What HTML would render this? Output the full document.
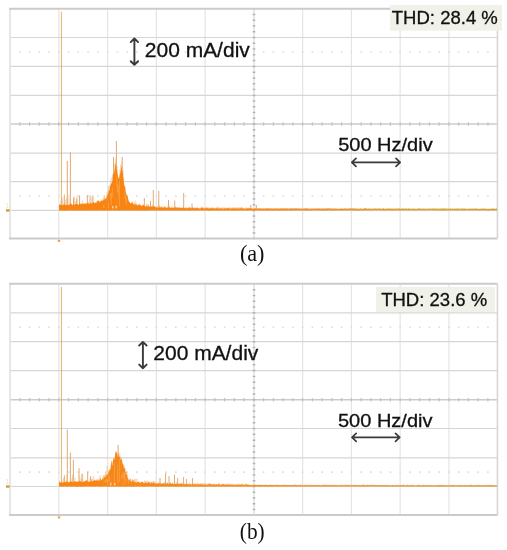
<!DOCTYPE html>
<html><head><meta charset="utf-8"><title>THD spectra</title>
<style>html,body{margin:0;padding:0;background:#fff;}body{width:507px;height:550px;overflow:hidden;}svg{display:block;}</style>
</head><body>
<svg width="507" height="550" viewBox="0 0 507 550">
<rect width="507" height="550" fill="#fff"/>
<line x1="58.81" y1="8.85" x2="58.81" y2="238.50" stroke="#e5e5e5" stroke-width="1.2"/>
<line x1="107.58" y1="8.85" x2="107.58" y2="238.50" stroke="#e5e5e5" stroke-width="1.2"/>
<line x1="156.34" y1="8.85" x2="156.34" y2="238.50" stroke="#e5e5e5" stroke-width="1.2"/>
<line x1="205.11" y1="8.85" x2="205.11" y2="238.50" stroke="#e5e5e5" stroke-width="1.2"/>
<line x1="302.63" y1="8.85" x2="302.63" y2="238.50" stroke="#e5e5e5" stroke-width="1.2"/>
<line x1="351.40" y1="8.85" x2="351.40" y2="238.50" stroke="#e5e5e5" stroke-width="1.2"/>
<line x1="400.16" y1="8.85" x2="400.16" y2="238.50" stroke="#e5e5e5" stroke-width="1.2"/>
<line x1="448.93" y1="8.85" x2="448.93" y2="238.50" stroke="#e5e5e5" stroke-width="1.2"/>
<line x1="10.05" y1="37.50" x2="497.45" y2="37.50" stroke="#d6d6d6" stroke-width="1.2"/>
<line x1="10.05" y1="66.40" x2="497.45" y2="66.40" stroke="#d6d6d6" stroke-width="1.2"/>
<line x1="10.05" y1="95.40" x2="497.45" y2="95.40" stroke="#d6d6d6" stroke-width="1.2"/>
<line x1="10.05" y1="153.10" x2="497.45" y2="153.10" stroke="#d6d6d6" stroke-width="1.2"/>
<line x1="10.05" y1="181.60" x2="497.45" y2="181.60" stroke="#d6d6d6" stroke-width="1.2"/>
<line x1="10.05" y1="210.40" x2="497.45" y2="210.40" stroke="#d6d6d6" stroke-width="1.2"/>
<path d="M19.00 51.95h1.6 M28.76 51.95h1.6 M38.51 51.95h1.6 M48.26 51.95h1.6 M58.01 51.95h1.6 M67.77 51.95h1.6 M77.52 51.95h1.6 M87.27 51.95h1.6 M97.03 51.95h1.6 M106.78 51.95h1.6 M116.53 51.95h1.6 M126.28 51.95h1.6 M136.04 51.95h1.6 M145.79 51.95h1.6 M155.54 51.95h1.6 M165.29 51.95h1.6 M175.05 51.95h1.6 M184.80 51.95h1.6 M194.55 51.95h1.6 M204.31 51.95h1.6 M214.06 51.95h1.6 M223.81 51.95h1.6 M233.56 51.95h1.6 M243.32 51.95h1.6 M253.07 51.95h1.6 M262.82 51.95h1.6 M272.58 51.95h1.6 M282.33 51.95h1.6 M292.08 51.95h1.6 M301.83 51.95h1.6 M311.59 51.95h1.6 M321.34 51.95h1.6 M331.09 51.95h1.6 M340.85 51.95h1.6 M350.60 51.95h1.6 M360.35 51.95h1.6 M370.10 51.95h1.6 M379.86 51.95h1.6 M389.61 51.95h1.6 M399.36 51.95h1.6 M409.11 51.95h1.6 M418.87 51.95h1.6 M428.62 51.95h1.6 M438.37 51.95h1.6 M448.13 51.95h1.6 M457.88 51.95h1.6 M467.63 51.95h1.6 M477.38 51.95h1.6 M487.14 51.95h1.6" stroke="#dcdcdc" stroke-width="1.6" fill="none"/>
<path d="M19.00 196.00h1.6 M28.76 196.00h1.6 M38.51 196.00h1.6 M48.26 196.00h1.6 M58.01 196.00h1.6 M67.77 196.00h1.6 M77.52 196.00h1.6 M87.27 196.00h1.6 M97.03 196.00h1.6 M106.78 196.00h1.6 M116.53 196.00h1.6 M126.28 196.00h1.6 M136.04 196.00h1.6 M145.79 196.00h1.6 M155.54 196.00h1.6 M165.29 196.00h1.6 M175.05 196.00h1.6 M184.80 196.00h1.6 M194.55 196.00h1.6 M204.31 196.00h1.6 M214.06 196.00h1.6 M223.81 196.00h1.6 M233.56 196.00h1.6 M243.32 196.00h1.6 M253.07 196.00h1.6 M262.82 196.00h1.6 M272.58 196.00h1.6 M282.33 196.00h1.6 M292.08 196.00h1.6 M301.83 196.00h1.6 M311.59 196.00h1.6 M321.34 196.00h1.6 M331.09 196.00h1.6 M340.85 196.00h1.6 M350.60 196.00h1.6 M360.35 196.00h1.6 M370.10 196.00h1.6 M379.86 196.00h1.6 M389.61 196.00h1.6 M399.36 196.00h1.6 M409.11 196.00h1.6 M418.87 196.00h1.6 M428.62 196.00h1.6 M438.37 196.00h1.6 M448.13 196.00h1.6 M457.88 196.00h1.6 M467.63 196.00h1.6 M477.38 196.00h1.6 M487.14 196.00h1.6" stroke="#dcdcdc" stroke-width="1.6" fill="none"/>
<line x1="10.05" y1="124.00" x2="497.45" y2="124.00" stroke="#cbcbcb" stroke-width="1.4"/>
<path d="M19.80 122.20v3.6 M29.56 122.20v3.6 M39.31 122.20v3.6 M49.06 122.20v3.6 M58.81 122.20v3.6 M68.57 122.20v3.6 M78.32 122.20v3.6 M88.07 122.20v3.6 M97.83 122.20v3.6 M107.58 122.20v3.6 M117.33 122.20v3.6 M127.08 122.20v3.6 M136.84 122.20v3.6 M146.59 122.20v3.6 M156.34 122.20v3.6 M166.09 122.20v3.6 M175.85 122.20v3.6 M185.60 122.20v3.6 M195.35 122.20v3.6 M205.11 122.20v3.6 M214.86 122.20v3.6 M224.61 122.20v3.6 M234.36 122.20v3.6 M244.12 122.20v3.6 M253.87 122.20v3.6 M263.62 122.20v3.6 M273.38 122.20v3.6 M283.13 122.20v3.6 M292.88 122.20v3.6 M302.63 122.20v3.6 M312.39 122.20v3.6 M322.14 122.20v3.6 M331.89 122.20v3.6 M341.65 122.20v3.6 M351.40 122.20v3.6 M361.15 122.20v3.6 M370.90 122.20v3.6 M380.66 122.20v3.6 M390.41 122.20v3.6 M400.16 122.20v3.6 M409.91 122.20v3.6 M419.67 122.20v3.6 M429.42 122.20v3.6 M439.17 122.20v3.6 M448.93 122.20v3.6 M458.68 122.20v3.6 M468.43 122.20v3.6 M478.18 122.20v3.6 M487.94 122.20v3.6" stroke="#c2c2c2" stroke-width="1.2" fill="none"/>
<line x1="254.00" y1="8.85" x2="254.00" y2="238.50" stroke="#d8d8d8" stroke-width="1.2"/>
<path d="M252.70 14.58h2.6 M252.70 20.31h2.6 M252.70 26.04h2.6 M252.70 31.77h2.6 M252.70 37.50h2.6 M252.70 43.28h2.6 M252.70 49.06h2.6 M252.70 54.84h2.6 M252.70 60.62h2.6 M252.70 66.40h2.6 M252.70 72.20h2.6 M252.70 78.00h2.6 M252.70 83.80h2.6 M252.70 89.60h2.6 M252.70 95.40h2.6 M252.70 101.12h2.6 M252.70 106.84h2.6 M252.70 112.56h2.6 M252.70 118.28h2.6 M252.70 124.00h2.6 M252.70 129.82h2.6 M252.70 135.64h2.6 M252.70 141.46h2.6 M252.70 147.28h2.6 M252.70 153.10h2.6 M252.70 158.80h2.6 M252.70 164.50h2.6 M252.70 170.20h2.6 M252.70 175.90h2.6 M252.70 181.60h2.6 M252.70 187.36h2.6 M252.70 193.12h2.6 M252.70 198.88h2.6 M252.70 204.64h2.6 M252.70 210.40h2.6 M252.70 216.02h2.6 M252.70 221.64h2.6 M252.70 227.26h2.6 M252.70 232.88h2.6 M252.70 238.50h2.6" stroke="#b2b2b2" stroke-width="1.5" fill="none"/>
<line x1="10.05" y1="8.85" x2="10.05" y2="238.50" stroke="#e4e4e4" stroke-width="1.8"/>
<line x1="9.05" y1="8.85" x2="497.45" y2="8.85" stroke="#cbcbcb" stroke-width="2"/>
<line x1="9.05" y1="238.50" x2="497.45" y2="238.50" stroke="#cbcbcb" stroke-width="2"/>
<line x1="497.45" y1="8.85" x2="497.45" y2="238.50" stroke="#d6d6d6" stroke-width="1.6"/>
<line x1="61.4" y1="11.8" x2="61.4" y2="210.4" stroke="#e2a95a" stroke-width="0.9"/>
<path d="M60.9 206.5V200.8 M62.6 206.4V197.6 M63.8 206.4V203.7 M64.6 206.3V202.7 M65.8 206.3V199.6 M66.8 206.2V196.8 M68.9 206.1V197.7 M70.6 206.1V201.9 M74.6 205.9V196.4 M75.9 205.9V201.1 M77.0 205.8V195.9 M79.6 205.7V198.1 M81.1 205.6V203.4 M82.6 205.5V200.5 M86.0 205.3V203.0 M87.9 205.1V203.1 M88.8 205.1V201.6 M89.8 205.0V195.7 M90.7 204.9V195.2 M91.9 204.8V197.4 M92.6 204.7V202.6 M96.8 204.1V200.9 M98.7 203.7V200.3 M103.9 201.6V195.4 M104.5 201.0V195.2 M106.1 199.4V197.3 M106.9 198.2V192.1 M108.6 194.9V186.2 M110.0 190.9V184.6 M111.1 187.2V177.7 M112.8 180.3V174.2 M113.7 175.9V169.7 M114.7 170.8V163.2 M115.7 167.4V158.4 M117.1 172.1V165.7 M120.0 176.3V169.8 M120.7 172.8V164.3 M122.0 167.5V161.4 M123.0 175.2V170.3 M123.6 181.0V178.3 M127.8 201.5V199.3 M131.9 205.3V202.9 M132.7 205.5V200.9 M135.0 206.2V200.5 M136.0 206.3V202.6 M136.5 206.4V204.3 M137.8 206.6V204.5 M140.6 207.0V204.5 M142.9 207.3V204.4 M143.9 207.5V205.2 M146.1 207.7V205.6 M146.5 207.7V203.9 M147.8 207.8V204.1 M148.6 207.9V204.1 M150.0 208.0V205.6 M151.9 208.2V205.7 M152.7 208.2V204.8 M153.7 208.3V206.3 M154.6 208.4V205.8 M156.0 208.5V206.4 M157.9 208.6V205.4 M159.1 208.7V206.2 M159.7 208.8V205.5 M161.5 208.8V206.2 M162.9 208.8V206.3 M164.0 208.9V206.6 M164.8 208.9V206.1 M167.1 208.9V206.9 M167.8 208.9V205.9 M169.1 208.9V205.8 M169.6 208.9V206.9 M171.0 209.0V206.8 M172.1 209.0V206.7 M172.8 209.0V206.7 M174.0 209.0V206.4 M175.7 209.0V206.5 M178.9 209.1V206.6 M179.5 209.1V206.8 M181.8 209.1V206.9 M182.9 209.1V206.9 M183.5 209.2V206.1 M185.6 209.2V207.0 M187.0 209.2V206.7 M188.8 209.2V206.8 M189.5 209.2V207.1 M190.5 209.3V206.9 M192.5 209.3V206.6 M194.0 209.3V207.3 M194.6 209.3V207.2 M196.6 209.3V207.2 M197.8 209.4V207.0 M201.1 209.4V206.8 M201.7 209.4V206.5 M202.8 209.4V206.9 M203.8 209.4V207.2 M205.9 209.4V207.4 M206.6 209.4V207.0 M207.6 209.4V207.3 M208.6 209.4V207.4 M210.0 209.4V207.4 M211.9 209.4V207.4 M212.6 209.4V207.1 M214.7 209.4V207.4 M216.8 209.5V206.8 M217.8 209.5V206.7 M218.9 209.5V207.0 M220.8 209.5V207.4 M222.5 209.5V207.2 M224.1 209.5V206.7 M227.1 209.5V207.0 M228.9 209.5V207.5 M229.9 209.5V207.1 M232.1 209.5V207.2 M232.8 209.5V207.1 M234.6 209.5V207.3 M235.6 209.5V207.5 M236.7 209.5V207.4 M237.7 209.5V207.3 M238.9 209.5V207.3 M240.0 209.5V207.0 M241.0 209.5V207.5 M241.8 209.5V207.0 M242.5 209.5V207.5 M246.6 209.6V207.1 M249.0 209.6V207.4" stroke="#edb070" stroke-width="0.85" fill="none" opacity="0.7"/>
<path d="M64.3 206.3V194.5 M67.3 206.2V161.0 M70.4 206.1V152.3 M73.5 206.0V197.5 M76.8 205.8V198.5 M79.6 205.7V195.5 M87.3 205.2V195.0 M92.9 204.7V195.5 M113.5 177.0V157.0 M116.4 168.4V141.0 M122.2 169.0V156.8 M144.3 207.5V198.0 M150.5 208.0V201.0 M153.3 208.3V190.0 M158.8 208.7V191.0 M168.5 208.9V200.0 M174.7 209.0V200.5 M183.7 209.2V193.0 M192.0 209.3V203.5 M250.8 209.6V205.0 M256.3 209.6V205.0" stroke="#e2aa70" stroke-width="1.0" fill="none"/>
<defs><linearGradient id="g1" gradientUnits="userSpaceOnUse" x1="59" y1="0" x2="497.45" y2="0"><stop offset="0.000" stop-color="#f88310"/><stop offset="0.436" stop-color="#f7891a"/><stop offset="0.550" stop-color="#ed8e2c"/><stop offset="0.687" stop-color="#e39a32"/><stop offset="0.846" stop-color="#daa83c"/><stop offset="0.999" stop-color="#d6a23c"/></linearGradient></defs>
<polygon points="59.0,205.19 59.5,203.96 60.0,205.52 60.5,203.91 61.0,205.36 61.5,205.20 62.0,204.24 62.5,205.17 63.0,204.91 63.5,205.37 64.0,204.35 64.5,204.85 65.0,205.14 65.5,204.17 66.0,205.12 66.5,204.91 67.0,205.20 67.5,204.94 68.0,205.12 68.5,205.06 69.0,204.12 69.5,205.00 70.0,204.71 70.5,203.23 71.0,203.29 71.5,204.08 72.0,204.52 72.5,204.88 73.0,204.94 73.5,203.13 74.0,204.48 74.5,204.90 75.0,204.20 75.5,203.74 76.0,204.17 76.5,203.18 77.0,204.80 77.5,204.28 78.0,204.39 78.5,204.72 79.0,203.94 79.5,203.25 80.0,204.01 80.5,204.52 81.0,203.21 81.5,204.11 82.0,204.08 82.5,203.42 83.0,204.47 83.5,203.14 84.0,203.55 84.5,203.19 85.0,204.34 85.5,203.07 86.0,204.26 86.5,204.26 87.0,202.73 87.5,202.65 88.0,202.55 88.5,203.68 89.0,203.92 89.5,204.00 90.0,203.14 90.5,202.87 91.0,202.41 91.5,203.69 92.0,203.70 92.5,202.92 93.0,202.34 93.5,201.63 94.0,203.57 94.5,203.07 95.0,201.69 95.5,202.97 96.0,202.46 96.5,203.14 97.0,201.91 97.5,200.59 98.0,200.91 98.5,200.39 99.0,201.38 99.5,202.44 100.0,200.54 100.5,202.13 101.0,199.42 101.5,201.74 102.0,198.71 102.5,201.17 103.0,200.46 103.5,200.37 104.0,198.28 104.5,199.89 105.0,198.83 105.5,199.00 106.0,198.22 106.5,196.94 107.0,196.96 107.5,194.21 108.0,194.82 108.5,191.29 109.0,190.46 109.5,190.45 110.0,185.61 110.5,186.06 111.0,182.72 111.5,184.18 112.0,181.43 112.5,180.50 113.0,172.38 113.5,175.75 114.0,173.24 114.5,170.98 115.0,168.28 115.5,163.79 116.0,165.00 116.5,167.46 117.0,170.25 117.5,173.32 118.0,175.66 118.5,177.94 119.0,179.07 119.5,175.50 120.0,173.67 120.5,172.61 121.0,169.29 121.5,166.42 122.0,166.47 122.5,170.12 123.0,173.72 123.5,178.29 124.0,182.94 124.5,186.47 125.0,185.74 125.5,190.27 126.0,192.72 126.5,194.18 127.0,196.65 127.5,194.89 128.0,198.35 128.5,200.25 129.0,201.98 129.5,201.41 130.0,202.83 130.5,203.44 131.0,202.99 131.5,201.65 132.0,204.03 132.5,202.35 133.0,203.75 133.5,204.70 134.0,202.13 134.5,204.68 135.0,205.03 135.5,203.55 136.0,205.32 136.5,204.18 137.0,205.42 137.5,205.25 138.0,205.53 138.5,204.11 139.0,205.47 139.5,203.69 140.0,205.10 140.5,204.98 141.0,205.52 141.5,205.95 142.0,205.90 142.5,204.40 143.0,206.26 143.5,204.38 144.0,205.35 144.5,206.32 145.0,205.85 145.5,206.41 146.0,206.45 146.5,206.30 147.0,206.76 147.5,206.41 148.0,205.13 148.5,206.77 149.0,205.98 149.5,206.67 150.0,206.94 150.5,205.68 151.0,207.08 151.5,207.00 152.0,205.55 152.5,207.12 153.0,206.15 153.5,206.77 154.0,206.38 154.5,206.82 155.0,207.24 155.5,206.65 156.0,207.48 156.5,207.29 157.0,207.41 157.5,207.34 158.0,207.63 158.5,207.63 159.0,207.37 159.5,207.61 160.0,207.08 160.5,207.41 161.0,206.96 161.5,207.23 162.0,207.45 162.5,207.76 163.0,207.17 163.5,207.80 164.0,207.86 164.5,206.82 165.0,207.58 165.5,207.24 166.0,207.61 166.5,207.52 167.0,207.90 167.5,207.88 168.0,207.46 168.5,207.61 169.0,207.92 169.5,206.97 170.0,207.93 170.5,207.71 171.0,207.95 171.5,207.46 172.0,207.92 172.5,207.97 173.0,207.99 173.5,207.98 174.0,207.98 174.5,207.76 175.0,207.85 175.5,207.12 176.0,207.14 176.5,207.45 177.0,207.64 177.5,207.39 178.0,207.22 178.5,208.08 179.0,208.08 179.5,207.99 180.0,208.09 180.5,207.80 181.0,208.07 181.5,208.07 182.0,208.07 182.5,208.13 183.0,207.67 183.5,207.80 184.0,207.86 184.5,208.17 185.0,208.04 185.5,207.80 186.0,208.18 186.5,208.09 187.0,208.20 187.5,208.21 188.0,208.19 188.5,208.11 189.0,208.08 189.5,207.61 190.0,208.18 190.5,208.26 191.0,207.73 191.5,208.27 192.0,208.28 192.5,207.56 193.0,207.87 193.5,208.23 194.0,208.30 194.5,208.22 195.0,208.25 195.5,207.77 196.0,208.23 196.5,208.34 197.0,207.73 197.5,208.10 198.0,208.36 198.5,208.37 199.0,208.25 199.5,208.39 200.0,208.15 200.5,208.16 201.0,208.40 201.5,207.97 202.0,208.00 202.5,207.84 203.0,208.12 203.5,208.10 204.0,208.40 204.5,208.41 205.0,208.41 205.5,207.79 206.0,208.16 206.5,207.82 207.0,208.36 207.5,208.06 208.0,208.42 208.5,208.42 209.0,208.39 209.5,208.25 210.0,208.25 210.5,208.29 211.0,208.34 211.5,208.24 212.0,207.83 212.5,208.32 213.0,208.00 213.5,208.44 214.0,208.37 214.5,208.27 215.0,208.22 215.5,208.42 216.0,208.37 216.5,207.88 217.0,208.21 217.5,208.26 218.0,208.46 218.5,208.46 219.0,208.44 219.5,208.46 220.0,207.86 220.5,208.47 221.0,208.40 221.5,208.47 222.0,208.24 222.5,208.47 223.0,208.47 223.5,208.48 224.0,208.44 224.5,208.30 225.0,208.10 225.5,208.45 226.0,208.45 226.5,208.09 227.0,208.17 227.5,208.49 228.0,208.12 228.5,208.09 229.0,208.48 229.5,208.28 230.0,208.48 230.5,208.47 231.0,208.38 231.5,208.36 232.0,208.39 232.5,208.36 233.0,208.49 233.5,208.17 234.0,208.48 234.5,208.04 235.0,208.38 235.5,208.48 236.0,208.51 236.5,208.40 237.0,208.46 237.5,208.32 238.0,208.40 238.5,208.53 239.0,208.15 239.5,208.53 240.0,208.16 240.5,208.18 241.0,208.06 241.5,208.31 242.0,208.53 242.5,208.45 243.0,208.45 243.5,208.34 244.0,208.48 244.5,208.32 245.0,208.53 245.5,208.50 246.0,208.41 246.5,208.47 247.0,208.55 247.5,208.06 248.0,208.32 248.5,208.20 249.0,208.51 249.5,208.09 250.0,208.23 250.5,208.06 251.0,208.56 251.5,208.47 252.0,208.51 252.5,208.40 253.0,208.55 253.5,208.58 254.0,208.48 254.5,208.39 255.0,208.52 255.5,208.08 256.0,208.52 256.5,208.55 257.0,208.27 257.5,208.50 258.0,208.56 258.5,208.56 259.0,208.15 259.5,208.14 260.0,208.41 260.5,208.57 261.0,208.36 261.5,208.58 262.0,208.56 262.5,208.47 263.0,208.54 263.5,208.55 264.0,208.13 264.5,208.59 265.0,208.43 265.5,208.60 266.0,208.60 266.5,208.59 267.0,208.12 267.5,208.36 268.0,208.24 268.5,208.61 269.0,208.39 269.5,208.53 270.0,208.54 270.5,208.37 271.0,208.57 271.5,208.49 272.0,208.58 272.5,208.55 273.0,208.49 273.5,208.60 274.0,208.58 274.5,208.54 275.0,208.52 275.5,208.31 276.0,208.42 276.5,208.47 277.0,208.25 277.5,208.60 278.0,208.61 278.5,208.55 279.0,208.61 279.5,208.48 280.0,208.47 280.5,208.61 281.0,208.38 281.5,208.48 282.0,208.54 282.5,208.21 283.0,208.26 283.5,208.60 284.0,208.61 284.5,208.21 285.0,208.61 285.5,208.35 286.0,208.58 286.5,208.57 287.0,208.49 287.5,208.20 288.0,208.62 288.5,208.61 289.0,208.38 289.5,208.56 290.0,208.59 290.5,208.17 291.0,208.60 291.5,208.39 292.0,208.17 292.5,208.35 293.0,208.39 293.5,208.38 294.0,208.32 294.5,208.60 295.0,208.45 295.5,208.32 296.0,208.25 296.5,208.23 297.0,208.23 297.5,208.63 298.0,208.57 298.5,208.54 299.0,208.24 299.5,208.56 300.0,208.61 300.5,208.63 301.0,208.60 301.5,208.34 302.0,208.64 302.5,208.63 303.0,208.60 303.5,208.51 304.0,208.58 304.5,208.26 305.0,208.62 305.5,208.50 306.0,208.35 306.5,208.21 307.0,208.27 307.5,208.63 308.0,208.34 308.5,208.43 309.0,208.57 309.5,208.64 310.0,208.63 310.5,208.38 311.0,208.64 311.5,208.60 312.0,208.62 312.5,208.38 313.0,208.59 313.5,208.64 314.0,208.59 314.5,208.60 315.0,208.41 315.5,208.61 316.0,208.42 316.5,208.52 317.0,208.26 317.5,208.40 318.0,208.58 318.5,208.55 319.0,208.55 319.5,208.28 320.0,208.64 320.5,208.58 321.0,208.53 321.5,208.57 322.0,208.49 322.5,208.54 323.0,208.58 323.5,208.43 324.0,208.61 324.5,208.49 325.0,208.41 325.5,208.65 326.0,208.61 326.5,208.21 327.0,208.19 327.5,208.17 328.0,208.66 328.5,208.33 329.0,208.23 329.5,208.26 330.0,208.42 330.5,208.45 331.0,208.42 331.5,208.51 332.0,208.36 332.5,208.55 333.0,208.64 333.5,208.66 334.0,208.26 334.5,208.39 335.0,208.65 335.5,208.34 336.0,208.63 336.5,208.48 337.0,208.61 337.5,208.65 338.0,208.65 338.5,208.66 339.0,208.67 339.5,208.67 340.0,208.67 340.5,208.33 341.0,208.55 341.5,208.66 342.0,208.55 342.5,208.54 343.0,208.56 343.5,208.65 344.0,208.59 344.5,208.30 345.0,208.61 345.5,208.56 346.0,208.25 346.5,208.65 347.0,208.43 347.5,208.57 348.0,208.38 348.5,208.62 349.0,208.54 349.5,208.62 350.0,208.31 350.5,208.27 351.0,208.49 351.5,208.20 352.0,208.43 352.5,208.35 353.0,208.29 353.5,208.65 354.0,208.19 354.5,208.62 355.0,208.57 355.5,208.67 356.0,208.36 356.5,208.64 357.0,208.46 357.5,208.66 358.0,208.63 358.5,208.62 359.0,208.66 359.5,208.68 360.0,208.40 360.5,208.24 361.0,208.67 361.5,208.68 362.0,208.64 362.5,208.68 363.0,208.49 363.5,208.63 364.0,208.55 364.5,208.29 365.0,208.33 365.5,208.27 366.0,208.26 366.5,208.53 367.0,208.58 367.5,208.69 368.0,208.69 368.5,208.57 369.0,208.34 369.5,208.61 370.0,208.69 370.5,208.68 371.0,208.42 371.5,208.69 372.0,208.68 372.5,208.66 373.0,208.53 373.5,208.36 374.0,208.68 374.5,208.53 375.0,208.57 375.5,208.61 376.0,208.55 376.5,208.38 377.0,208.68 377.5,208.59 378.0,208.70 378.5,208.58 379.0,208.40 379.5,208.20 380.0,208.60 380.5,208.67 381.0,208.55 381.5,208.65 382.0,208.70 382.5,208.58 383.0,208.40 383.5,208.32 384.0,208.23 384.5,208.65 385.0,208.68 385.5,208.70 386.0,208.63 386.5,208.39 387.0,208.69 387.5,208.36 388.0,208.47 388.5,208.69 389.0,208.53 389.5,208.39 390.0,208.28 390.5,208.70 391.0,208.39 391.5,208.42 392.0,208.69 392.5,208.68 393.0,208.26 393.5,208.66 394.0,208.68 394.5,208.47 395.0,208.71 395.5,208.61 396.0,208.66 396.5,208.58 397.0,208.55 397.5,208.53 398.0,208.64 398.5,208.33 399.0,208.38 399.5,208.29 400.0,208.63 400.5,208.47 401.0,208.64 401.5,208.69 402.0,208.52 402.5,208.28 403.0,208.41 403.5,208.69 404.0,208.70 404.5,208.44 405.0,208.49 405.5,208.36 406.0,208.72 406.5,208.36 407.0,208.64 407.5,208.70 408.0,208.68 408.5,208.23 409.0,208.27 409.5,208.72 410.0,208.69 410.5,208.48 411.0,208.73 411.5,208.73 412.0,208.73 412.5,208.36 413.0,208.68 413.5,208.69 414.0,208.43 414.5,208.69 415.0,208.47 415.5,208.68 416.0,208.70 416.5,208.67 417.0,208.72 417.5,208.73 418.0,208.36 418.5,208.37 419.0,208.64 419.5,208.51 420.0,208.37 420.5,208.67 421.0,208.50 421.5,208.47 422.0,208.73 422.5,208.73 423.0,208.47 423.5,208.51 424.0,208.73 424.5,208.41 425.0,208.43 425.5,208.70 426.0,208.69 426.5,208.74 427.0,208.66 427.5,208.74 428.0,208.61 428.5,208.56 429.0,208.59 429.5,208.74 430.0,208.57 430.5,208.48 431.0,208.74 431.5,208.59 432.0,208.42 432.5,208.73 433.0,208.34 433.5,208.28 434.0,208.51 434.5,208.38 435.0,208.72 435.5,208.54 436.0,208.33 436.5,208.75 437.0,208.43 437.5,208.73 438.0,208.44 438.5,208.56 439.0,208.44 439.5,208.68 440.0,208.67 440.5,208.33 441.0,208.75 441.5,208.74 442.0,208.28 442.5,208.34 443.0,208.75 443.5,208.28 444.0,208.73 444.5,208.37 445.0,208.35 445.5,208.76 446.0,208.76 446.5,208.71 447.0,208.33 447.5,208.46 448.0,208.70 448.5,208.40 449.0,208.72 449.5,208.71 450.0,208.75 450.5,208.30 451.0,208.45 451.5,208.67 452.0,208.74 452.5,208.30 453.0,208.70 453.5,208.75 454.0,208.69 454.5,208.52 455.0,208.48 455.5,208.76 456.0,208.32 456.5,208.56 457.0,208.77 457.5,208.43 458.0,208.30 458.5,208.43 459.0,208.77 459.5,208.67 460.0,208.61 460.5,208.38 461.0,208.66 461.5,208.77 462.0,208.34 462.5,208.32 463.0,208.67 463.5,208.77 464.0,208.43 464.5,208.51 465.0,208.30 465.5,208.77 466.0,208.69 466.5,208.74 467.0,208.77 467.5,208.52 468.0,208.73 468.5,208.78 469.0,208.77 469.5,208.47 470.0,208.61 470.5,208.76 471.0,208.55 471.5,208.77 472.0,208.57 472.5,208.58 473.0,208.78 473.5,208.67 474.0,208.53 474.5,208.51 475.0,208.55 475.5,208.40 476.0,208.51 476.5,208.36 477.0,208.71 477.5,208.78 478.0,208.77 478.5,208.75 479.0,208.78 479.5,208.78 480.0,208.67 480.5,208.76 481.0,208.75 481.5,208.53 482.0,208.43 482.5,208.43 483.0,208.73 483.5,208.55 484.0,208.44 484.5,208.78 485.0,208.78 485.5,208.60 486.0,208.76 486.5,208.78 487.0,208.74 487.5,208.79 488.0,208.71 488.5,208.79 489.0,208.77 489.5,208.78 490.0,208.75 490.5,208.79 491.0,208.70 491.5,208.58 492.0,208.75 492.5,208.37 493.0,208.44 493.5,208.76 494.0,208.80 494.5,208.52 495.0,208.78 495.5,208.75 496.0,208.65 496.5,208.30 497.0,208.76 497.0,210.38 496.5,210.41 496.0,210.45 495.5,210.35 495.0,210.54 494.5,210.40 494.0,210.58 493.5,210.40 493.0,210.42 492.5,210.55 492.0,210.55 491.5,210.47 491.0,210.58 490.5,210.48 490.0,210.60 489.5,210.43 489.0,210.60 488.5,210.45 488.0,210.43 487.5,210.51 487.0,210.48 486.5,210.59 486.0,210.45 485.5,210.43 485.0,210.31 484.5,210.48 484.0,210.44 483.5,210.42 483.0,210.35 482.5,210.44 482.0,210.41 481.5,210.55 481.0,210.31 480.5,210.46 480.0,210.45 479.5,210.34 479.0,210.55 478.5,210.38 478.0,210.44 477.5,210.43 477.0,210.32 476.5,210.36 476.0,210.54 475.5,210.52 475.0,210.50 474.5,210.53 474.0,210.35 473.5,210.58 473.0,210.34 472.5,210.40 472.0,210.60 471.5,210.38 471.0,210.39 470.5,210.40 470.0,210.43 469.5,210.35 469.0,210.50 468.5,210.37 468.0,210.31 467.5,210.55 467.0,210.37 466.5,210.49 466.0,210.31 465.5,210.33 465.0,210.44 464.5,210.42 464.0,210.38 463.5,210.47 463.0,210.45 462.5,210.47 462.0,210.41 461.5,210.48 461.0,210.56 460.5,210.40 460.0,210.41 459.5,210.37 459.0,210.50 458.5,210.35 458.0,210.60 457.5,210.44 457.0,210.50 456.5,210.49 456.0,210.52 455.5,210.42 455.0,210.40 454.5,210.54 454.0,210.54 453.5,210.33 453.0,210.33 452.5,210.60 452.0,210.38 451.5,210.41 451.0,210.52 450.5,210.44 450.0,210.55 449.5,210.37 449.0,210.50 448.5,210.61 448.0,210.57 447.5,210.32 447.0,210.59 446.5,210.38 446.0,210.48 445.5,210.41 445.0,210.37 444.5,210.49 444.0,210.52 443.5,210.43 443.0,210.47 442.5,210.57 442.0,210.47 441.5,210.52 441.0,210.58 440.5,210.38 440.0,210.38 439.5,210.47 439.0,210.36 438.5,210.40 438.0,210.44 437.5,210.55 437.0,210.59 436.5,210.50 436.0,210.53 435.5,210.50 435.0,210.57 434.5,210.54 434.0,210.41 433.5,210.58 433.0,210.36 432.5,210.60 432.0,210.45 431.5,210.33 431.0,210.37 430.5,210.33 430.0,210.46 429.5,210.37 429.0,210.41 428.5,210.39 428.0,210.34 427.5,210.58 427.0,210.56 426.5,210.46 426.0,210.38 425.5,210.45 425.0,210.33 424.5,210.36 424.0,210.57 423.5,210.44 423.0,210.58 422.5,210.36 422.0,210.57 421.5,210.45 421.0,210.44 420.5,210.33 420.0,210.33 419.5,210.50 419.0,210.32 418.5,210.35 418.0,210.49 417.5,210.61 417.0,210.37 416.5,210.52 416.0,210.37 415.5,210.42 415.0,210.61 414.5,210.42 414.0,210.52 413.5,210.52 413.0,210.52 412.5,210.57 412.0,210.43 411.5,210.36 411.0,210.48 410.5,210.48 410.0,210.55 409.5,210.60 409.0,210.54 408.5,210.41 408.0,210.62 407.5,210.32 407.0,210.53 406.5,210.54 406.0,210.49 405.5,210.36 405.0,210.44 404.5,210.38 404.0,210.61 403.5,210.41 403.0,210.58 402.5,210.59 402.0,210.60 401.5,210.50 401.0,210.37 400.5,210.52 400.0,210.54 399.5,210.43 399.0,210.41 398.5,210.53 398.0,210.40 397.5,210.44 397.0,210.32 396.5,210.39 396.0,210.50 395.5,210.33 395.0,210.39 394.5,210.45 394.0,210.53 393.5,210.50 393.0,210.51 392.5,210.42 392.0,210.48 391.5,210.39 391.0,210.53 390.5,210.43 390.0,210.41 389.5,210.60 389.0,210.50 388.5,210.46 388.0,210.44 387.5,210.35 387.0,210.57 386.5,210.45 386.0,210.49 385.5,210.42 385.0,210.61 384.5,210.38 384.0,210.51 383.5,210.62 383.0,210.50 382.5,210.51 382.0,210.50 381.5,210.34 381.0,210.52 380.5,210.35 380.0,210.60 379.5,210.57 379.0,210.33 378.5,210.36 378.0,210.48 377.5,210.33 377.0,210.46 376.5,210.50 376.0,210.51 375.5,210.34 375.0,210.40 374.5,210.36 374.0,210.34 373.5,210.35 373.0,210.35 372.5,210.54 372.0,210.51 371.5,210.48 371.0,210.59 370.5,210.51 370.0,210.50 369.5,210.36 369.0,210.56 368.5,210.60 368.0,210.60 367.5,210.50 367.0,210.58 366.5,210.61 366.0,210.52 365.5,210.46 365.0,210.53 364.5,210.55 364.0,210.37 363.5,210.40 363.0,210.62 362.5,210.57 362.0,210.47 361.5,210.45 361.0,210.62 360.5,210.36 360.0,210.50 359.5,210.58 359.0,210.39 358.5,210.57 358.0,210.50 357.5,210.41 357.0,210.63 356.5,210.49 356.0,210.53 355.5,210.43 355.0,210.59 354.5,210.37 354.0,210.44 353.5,210.45 353.0,210.58 352.5,210.45 352.0,210.62 351.5,210.58 351.0,210.51 350.5,210.49 350.0,210.36 349.5,210.34 349.0,210.38 348.5,210.60 348.0,210.44 347.5,210.51 347.0,210.43 346.5,210.53 346.0,210.43 345.5,210.34 345.0,210.60 344.5,210.34 344.0,210.41 343.5,210.41 343.0,210.56 342.5,210.41 342.0,210.48 341.5,210.40 341.0,210.58 340.5,210.38 340.0,210.52 339.5,210.49 339.0,210.35 338.5,210.56 338.0,210.36 337.5,210.59 337.0,210.40 336.5,210.38 336.0,210.53 335.5,210.36 335.0,210.60 334.5,210.50 334.0,210.41 333.5,210.47 333.0,210.49 332.5,210.62 332.0,210.40 331.5,210.55 331.0,210.37 330.5,210.63 330.0,210.44 329.5,210.47 329.0,210.52 328.5,210.36 328.0,210.55 327.5,210.53 327.0,210.50 326.5,210.38 326.0,210.63 325.5,210.48 325.0,210.45 324.5,210.45 324.0,210.60 323.5,210.63 323.0,210.47 322.5,210.57 322.0,210.41 321.5,210.59 321.0,210.56 320.5,210.48 320.0,210.43 319.5,210.56 319.0,210.57 318.5,210.35 318.0,210.51 317.5,210.51 317.0,210.48 316.5,210.37 316.0,210.51 315.5,210.46 315.0,210.37 314.5,210.44 314.0,210.36 313.5,210.37 313.0,210.56 312.5,210.45 312.0,210.50 311.5,210.46 311.0,210.45 310.5,210.37 310.0,210.59 309.5,210.52 309.0,210.52 308.5,210.40 308.0,210.35 307.5,210.57 307.0,210.51 306.5,210.54 306.0,210.42 305.5,210.46 305.0,210.41 304.5,210.64 304.0,210.36 303.5,210.42 303.0,210.38 302.5,210.45 302.0,210.49 301.5,210.41 301.0,210.56 300.5,210.62 300.0,210.62 299.5,210.39 299.0,210.39 298.5,210.54 298.0,210.35 297.5,210.57 297.0,210.39 296.5,210.50 296.0,210.54 295.5,210.58 295.0,210.53 294.5,210.54 294.0,210.37 293.5,210.37 293.0,210.40 292.5,210.51 292.0,210.64 291.5,210.41 291.0,210.61 290.5,210.60 290.0,210.61 289.5,210.55 289.0,210.35 288.5,210.49 288.0,210.41 287.5,210.55 287.0,210.46 286.5,210.51 286.0,210.44 285.5,210.41 285.0,210.35 284.5,210.45 284.0,210.57 283.5,210.52 283.0,210.55 282.5,210.50 282.0,210.40 281.5,210.45 281.0,210.50 280.5,210.46 280.0,210.51 279.5,210.54 279.0,210.61 278.5,210.62 278.0,210.56 277.5,210.64 277.0,210.57 276.5,210.37 276.0,210.41 275.5,210.46 275.0,210.38 274.5,210.40 274.0,210.48 273.5,210.48 273.0,210.62 272.5,210.64 272.0,210.49 271.5,210.58 271.0,210.61 270.5,210.46 270.0,210.58 269.5,210.64 269.0,210.36 268.5,210.44 268.0,210.47 267.5,210.54 267.0,210.65 266.5,210.53 266.0,210.56 265.5,210.62 265.0,210.57 264.5,210.58 264.0,210.46 263.5,210.46 263.0,210.38 262.5,210.40 262.0,210.36 261.5,210.59 261.0,210.58 260.5,210.46 260.0,210.49 259.5,210.45 259.0,210.44 258.5,210.49 258.0,210.46 257.5,210.44 257.0,210.40 256.5,210.36 256.0,210.47 255.5,210.44 255.0,210.36 254.5,210.48 254.0,210.62 253.5,210.40 253.0,210.50 252.5,210.61 252.0,210.45 251.5,210.52 251.0,210.38 250.5,210.50 250.0,210.39 249.5,210.62 249.0,210.57 248.5,210.50 248.0,210.63 247.5,210.56 247.0,210.59 246.5,210.51 246.0,210.46 245.5,210.62 245.0,210.37 244.5,210.40 244.0,210.37 243.5,210.51 243.0,210.38 242.5,210.61 242.0,210.56 241.5,210.55 241.0,210.61 240.5,210.55 240.0,210.52 239.5,210.59 239.0,210.56 238.5,210.53 238.0,210.40 237.5,210.64 237.0,210.37 236.5,210.52 236.0,210.53 235.5,210.51 235.0,210.63 234.5,210.64 234.0,210.63 233.5,210.53 233.0,210.64 232.5,210.46 232.0,210.50 231.5,210.42 231.0,210.43 230.5,210.46 230.0,210.55 229.5,210.37 229.0,210.42 228.5,210.60 228.0,210.64 227.5,210.40 227.0,210.39 226.5,210.42 226.0,210.59 225.5,210.51 225.0,210.43 224.5,210.65 224.0,210.58 223.5,210.53 223.0,210.56 222.5,210.39 222.0,210.59 221.5,210.37 221.0,210.42 220.5,210.49 220.0,210.66 219.5,210.55 219.0,210.62 218.5,210.39 218.0,210.41 217.5,210.62 217.0,210.66 216.5,210.52 216.0,210.59 215.5,210.49 215.0,210.56 214.5,210.54 214.0,210.47 213.5,210.42 213.0,210.55 212.5,210.64 212.0,210.38 211.5,210.58 211.0,210.66 210.5,210.51 210.0,210.47 209.5,210.66 209.0,210.64 208.5,210.63 208.0,210.55 207.5,210.54 207.0,210.52 206.5,210.38 206.0,210.37 205.5,210.60 205.0,210.64 204.5,210.57 204.0,210.39 203.5,210.41 203.0,210.50 202.5,210.51 202.0,210.56 201.5,210.65 201.0,210.37 200.5,210.55 200.0,210.48 199.5,210.38 199.0,210.61 198.5,210.57 198.0,210.51 197.5,210.48 197.0,210.52 196.5,210.49 196.0,210.41 195.5,210.43 195.0,210.65 194.5,210.52 194.0,210.39 193.5,210.57 193.0,210.50 192.5,210.53 192.0,210.54 191.5,210.60 191.0,210.42 190.5,210.57 190.0,210.64 189.5,210.51 189.0,210.61 188.5,210.43 188.0,210.55 187.5,210.61 187.0,210.49 186.5,210.57 186.0,210.62 185.5,210.50 185.0,210.50 184.5,210.42 184.0,210.65 183.5,210.64 183.0,210.45 182.5,210.43 182.0,210.52 181.5,210.47 181.0,210.45 180.5,210.46 180.0,210.67 179.5,210.46 179.0,210.64 178.5,210.44 178.0,210.60 177.5,210.50 177.0,210.62 176.5,210.65 176.0,210.66 175.5,210.61 175.0,210.55 174.5,210.56 174.0,210.62 173.5,210.58 173.0,210.42 172.5,210.41 172.0,210.56 171.5,210.44 171.0,210.67 170.5,210.59 170.0,210.58 169.5,210.66 169.0,210.50 168.5,210.49 168.0,210.41 167.5,210.60 167.0,210.49 166.5,210.54 166.0,210.55 165.5,210.44 165.0,210.66 164.5,210.60 164.0,210.44 163.5,210.46 163.0,210.62 162.5,210.58 162.0,210.60 161.5,210.54 161.0,210.64 160.5,210.63 160.0,210.43 159.5,210.52 159.0,210.39 158.5,210.57 158.0,210.62 157.5,210.52 157.0,210.47 156.5,210.44 156.0,210.50 155.5,210.55 155.0,210.45 154.5,210.39 154.0,210.39 153.5,210.41 153.0,210.46 152.5,210.56 152.0,210.57 151.5,210.62 151.0,210.55 150.5,210.44 150.0,210.59 149.5,210.45 149.0,210.43 148.5,210.54 148.0,210.60 147.5,210.63 147.0,210.52 146.5,210.63 146.0,210.67 145.5,210.63 145.0,210.49 144.5,210.51 144.0,210.49 143.5,210.66 143.0,210.58 142.5,210.65 142.0,210.50 141.5,210.68 141.0,210.48 140.5,210.55 140.0,210.52 139.5,210.61 139.0,210.67 138.5,210.53 138.0,210.53 137.5,210.44 137.0,210.48 136.5,210.64 136.0,210.41 135.5,210.65 135.0,210.46 134.5,210.49 134.0,210.64 133.5,210.49 133.0,210.43 132.5,210.61 132.0,210.47 131.5,210.39 131.0,210.65 130.5,210.50 130.0,210.56 129.5,210.68 129.0,210.57 128.5,210.57 128.0,210.40 127.5,210.47 127.0,210.51 126.5,210.45 126.0,210.67 125.5,210.59 125.0,210.53 124.5,210.60 124.0,210.46 123.5,210.59 123.0,210.53 122.5,210.52 122.0,210.55 121.5,210.60 121.0,210.68 120.5,210.55 120.0,210.67 119.5,210.65 119.0,210.39 118.5,210.67 118.0,210.56 117.5,210.42 117.0,210.45 116.5,210.50 116.0,210.56 115.5,210.53 115.0,210.47 114.5,210.62 114.0,210.55 113.5,210.46 113.0,210.57 112.5,210.48 112.0,210.48 111.5,210.65 111.0,210.50 110.5,210.41 110.0,210.52 109.5,210.57 109.0,210.67 108.5,210.45 108.0,210.46 107.5,210.57 107.0,210.41 106.5,210.55 106.0,210.66 105.5,210.69 105.0,210.46 104.5,210.47 104.0,210.67 103.5,210.53 103.0,210.45 102.5,210.68 102.0,210.40 101.5,210.62 101.0,210.50 100.5,210.62 100.0,210.49 99.5,210.46 99.0,210.56 98.5,210.55 98.0,210.58 97.5,210.46 97.0,210.48 96.5,210.64 96.0,210.63 95.5,210.62 95.0,210.55 94.5,210.50 94.0,210.59 93.5,210.68 93.0,210.48 92.5,210.42 92.0,210.57 91.5,210.53 91.0,210.64 90.5,210.53 90.0,210.43 89.5,210.64 89.0,210.50 88.5,210.58 88.0,210.48 87.5,210.59 87.0,210.68 86.5,210.69 86.0,210.66 85.5,210.69 85.0,210.57 84.5,210.57 84.0,210.69 83.5,210.53 83.0,210.43 82.5,210.51 82.0,210.55 81.5,210.58 81.0,210.64 80.5,210.46 80.0,210.41 79.5,210.63 79.0,210.49 78.5,210.54 78.0,210.53 77.5,210.50 77.0,210.66 76.5,210.51 76.0,210.46 75.5,210.43 75.0,210.63 74.5,210.67 74.0,210.55 73.5,210.69 73.0,210.49 72.5,210.46 72.0,210.68 71.5,210.47 71.0,210.59 70.5,210.40 70.0,210.44 69.5,210.52 69.0,210.66 68.5,210.49 68.0,210.60 67.5,210.57 67.0,210.59 66.5,210.62 66.0,210.52 65.5,210.69 65.0,210.68 64.5,210.65 64.0,210.65 63.5,210.69 63.0,210.44 62.5,210.43 62.0,210.60 61.5,210.56 61.0,210.58 60.5,210.46 60.0,210.60 59.5,210.59 59.0,210.54" fill="url(#g1)"/>
<path d="M103.4 205.4V207.8 M104.0 205.1V207.7 M107.0 197.7V201.3 M108.5 202.8V208.1 M110.4 192.7V200.6 M111.4 193.2V204.7 M112.3 187.5V197.4 M116.7 175.7V185.9 M117.6 184.1V192.2 M118.4 185.7V196.0 M119.4 180.2V206.4 M124.9 191.3V199.4 M125.7 196.4V202.4 M126.6 198.0V204.4" stroke="#fff3e0" stroke-width="0.6" fill="none" opacity="0.35"/>
<rect x="112" y="206" width="1.5" height="2.5" fill="#fff6ea" opacity="0.6"/>
<rect x="115.5" y="205.6" width="1.5" height="2.8" fill="#fff6ea" opacity="0.6"/>
<rect x="6" y="209.2" width="3.6" height="2.4" fill="#c9a040"/>
<text x="5.2" y="208.2" font-family="'Liberation Sans', Arial, sans-serif" font-size="7" fill="#f4e4bc">1</text>
<rect x="57.8" y="239.8" width="2.4" height="2" fill="#f0a040"/>
<rect x="390" y="5" width="112" height="25.6" fill="#f0f1e8"/>
<text x="391.8" y="24.2" font-family="'Liberation Sans', Arial, sans-serif" font-size="18.3" fill="#111" stroke="#111" stroke-width="0.3" textLength="106" lengthAdjust="spacingAndGlyphs">THD: 28.4 %</text>
<text x="144.8" y="56.6" font-family="'Liberation Sans', Arial, sans-serif" font-size="20.2" fill="#111" stroke="#111" stroke-width="0.3" textLength="105" lengthAdjust="spacingAndGlyphs">200 mA/div</text>
<path d="M134.4 38.5V64.8 M130.70000000000002 42.1L134.4 38.5L138.1 42.1 M130.70000000000002 61.199999999999996L134.4 64.8L138.1 61.199999999999996" stroke="#3a3a3a" stroke-width="1.9" fill="none" stroke-linecap="round" stroke-linejoin="round"/>
<text x="338.2" y="151.3" font-family="'Liberation Sans', Arial, sans-serif" font-size="18.2" fill="#111" stroke="#111" stroke-width="0.3" textLength="94.5" lengthAdjust="spacingAndGlyphs">500 Hz/div</text>
<path d="M351.8 162.3H400.2 M356.0 158.3L351.8 162.3L356.0 166.3 M396.0 158.3L400.2 162.3L396.0 166.3" stroke="#3a3a3a" stroke-width="1.7" fill="none" stroke-linecap="round" stroke-linejoin="round"/>
<text x="239.9" y="260.9" font-family="'Liberation Serif', 'Times New Roman', serif" font-size="22.9" fill="#111" textLength="24.6" lengthAdjust="spacingAndGlyphs">(a)</text>
<line x1="58.81" y1="283.85" x2="58.81" y2="515.10" stroke="#e5e5e5" stroke-width="1.2"/>
<line x1="107.58" y1="283.85" x2="107.58" y2="515.10" stroke="#e5e5e5" stroke-width="1.2"/>
<line x1="156.34" y1="283.85" x2="156.34" y2="515.10" stroke="#e5e5e5" stroke-width="1.2"/>
<line x1="205.11" y1="283.85" x2="205.11" y2="515.10" stroke="#e5e5e5" stroke-width="1.2"/>
<line x1="302.63" y1="283.85" x2="302.63" y2="515.10" stroke="#e5e5e5" stroke-width="1.2"/>
<line x1="351.40" y1="283.85" x2="351.40" y2="515.10" stroke="#e5e5e5" stroke-width="1.2"/>
<line x1="400.16" y1="283.85" x2="400.16" y2="515.10" stroke="#e5e5e5" stroke-width="1.2"/>
<line x1="448.93" y1="283.85" x2="448.93" y2="515.10" stroke="#e5e5e5" stroke-width="1.2"/>
<line x1="10.05" y1="312.80" x2="497.45" y2="312.80" stroke="#d6d6d6" stroke-width="1.2"/>
<line x1="10.05" y1="341.70" x2="497.45" y2="341.70" stroke="#d6d6d6" stroke-width="1.2"/>
<line x1="10.05" y1="370.60" x2="497.45" y2="370.60" stroke="#d6d6d6" stroke-width="1.2"/>
<line x1="10.05" y1="428.50" x2="497.45" y2="428.50" stroke="#d6d6d6" stroke-width="1.2"/>
<line x1="10.05" y1="457.80" x2="497.45" y2="457.80" stroke="#d6d6d6" stroke-width="1.2"/>
<line x1="10.05" y1="486.50" x2="497.45" y2="486.50" stroke="#d6d6d6" stroke-width="1.2"/>
<path d="M19.00 327.25h1.6 M28.76 327.25h1.6 M38.51 327.25h1.6 M48.26 327.25h1.6 M58.01 327.25h1.6 M67.77 327.25h1.6 M77.52 327.25h1.6 M87.27 327.25h1.6 M97.03 327.25h1.6 M106.78 327.25h1.6 M116.53 327.25h1.6 M126.28 327.25h1.6 M136.04 327.25h1.6 M145.79 327.25h1.6 M155.54 327.25h1.6 M165.29 327.25h1.6 M175.05 327.25h1.6 M184.80 327.25h1.6 M194.55 327.25h1.6 M204.31 327.25h1.6 M214.06 327.25h1.6 M223.81 327.25h1.6 M233.56 327.25h1.6 M243.32 327.25h1.6 M253.07 327.25h1.6 M262.82 327.25h1.6 M272.58 327.25h1.6 M282.33 327.25h1.6 M292.08 327.25h1.6 M301.83 327.25h1.6 M311.59 327.25h1.6 M321.34 327.25h1.6 M331.09 327.25h1.6 M340.85 327.25h1.6 M350.60 327.25h1.6 M360.35 327.25h1.6 M370.10 327.25h1.6 M379.86 327.25h1.6 M389.61 327.25h1.6 M399.36 327.25h1.6 M409.11 327.25h1.6 M418.87 327.25h1.6 M428.62 327.25h1.6 M438.37 327.25h1.6 M448.13 327.25h1.6 M457.88 327.25h1.6 M467.63 327.25h1.6 M477.38 327.25h1.6 M487.14 327.25h1.6" stroke="#dcdcdc" stroke-width="1.6" fill="none"/>
<path d="M19.00 472.15h1.6 M28.76 472.15h1.6 M38.51 472.15h1.6 M48.26 472.15h1.6 M58.01 472.15h1.6 M67.77 472.15h1.6 M77.52 472.15h1.6 M87.27 472.15h1.6 M97.03 472.15h1.6 M106.78 472.15h1.6 M116.53 472.15h1.6 M126.28 472.15h1.6 M136.04 472.15h1.6 M145.79 472.15h1.6 M155.54 472.15h1.6 M165.29 472.15h1.6 M175.05 472.15h1.6 M184.80 472.15h1.6 M194.55 472.15h1.6 M204.31 472.15h1.6 M214.06 472.15h1.6 M223.81 472.15h1.6 M233.56 472.15h1.6 M243.32 472.15h1.6 M253.07 472.15h1.6 M262.82 472.15h1.6 M272.58 472.15h1.6 M282.33 472.15h1.6 M292.08 472.15h1.6 M301.83 472.15h1.6 M311.59 472.15h1.6 M321.34 472.15h1.6 M331.09 472.15h1.6 M340.85 472.15h1.6 M350.60 472.15h1.6 M360.35 472.15h1.6 M370.10 472.15h1.6 M379.86 472.15h1.6 M389.61 472.15h1.6 M399.36 472.15h1.6 M409.11 472.15h1.6 M418.87 472.15h1.6 M428.62 472.15h1.6 M438.37 472.15h1.6 M448.13 472.15h1.6 M457.88 472.15h1.6 M467.63 472.15h1.6 M477.38 472.15h1.6 M487.14 472.15h1.6" stroke="#dcdcdc" stroke-width="1.6" fill="none"/>
<line x1="10.05" y1="399.80" x2="497.45" y2="399.80" stroke="#cbcbcb" stroke-width="1.4"/>
<path d="M19.80 398.00v3.6 M29.56 398.00v3.6 M39.31 398.00v3.6 M49.06 398.00v3.6 M58.81 398.00v3.6 M68.57 398.00v3.6 M78.32 398.00v3.6 M88.07 398.00v3.6 M97.83 398.00v3.6 M107.58 398.00v3.6 M117.33 398.00v3.6 M127.08 398.00v3.6 M136.84 398.00v3.6 M146.59 398.00v3.6 M156.34 398.00v3.6 M166.09 398.00v3.6 M175.85 398.00v3.6 M185.60 398.00v3.6 M195.35 398.00v3.6 M205.11 398.00v3.6 M214.86 398.00v3.6 M224.61 398.00v3.6 M234.36 398.00v3.6 M244.12 398.00v3.6 M253.87 398.00v3.6 M263.62 398.00v3.6 M273.38 398.00v3.6 M283.13 398.00v3.6 M292.88 398.00v3.6 M302.63 398.00v3.6 M312.39 398.00v3.6 M322.14 398.00v3.6 M331.89 398.00v3.6 M341.65 398.00v3.6 M351.40 398.00v3.6 M361.15 398.00v3.6 M370.90 398.00v3.6 M380.66 398.00v3.6 M390.41 398.00v3.6 M400.16 398.00v3.6 M409.91 398.00v3.6 M419.67 398.00v3.6 M429.42 398.00v3.6 M439.17 398.00v3.6 M448.93 398.00v3.6 M458.68 398.00v3.6 M468.43 398.00v3.6 M478.18 398.00v3.6 M487.94 398.00v3.6" stroke="#c2c2c2" stroke-width="1.2" fill="none"/>
<line x1="254.00" y1="283.85" x2="254.00" y2="515.10" stroke="#d8d8d8" stroke-width="1.2"/>
<path d="M252.70 289.64h2.6 M252.70 295.43h2.6 M252.70 301.22h2.6 M252.70 307.01h2.6 M252.70 312.80h2.6 M252.70 318.58h2.6 M252.70 324.36h2.6 M252.70 330.14h2.6 M252.70 335.92h2.6 M252.70 341.70h2.6 M252.70 347.48h2.6 M252.70 353.26h2.6 M252.70 359.04h2.6 M252.70 364.82h2.6 M252.70 370.60h2.6 M252.70 376.44h2.6 M252.70 382.28h2.6 M252.70 388.12h2.6 M252.70 393.96h2.6 M252.70 399.80h2.6 M252.70 405.54h2.6 M252.70 411.28h2.6 M252.70 417.02h2.6 M252.70 422.76h2.6 M252.70 428.50h2.6 M252.70 434.36h2.6 M252.70 440.22h2.6 M252.70 446.08h2.6 M252.70 451.94h2.6 M252.70 457.80h2.6 M252.70 463.54h2.6 M252.70 469.28h2.6 M252.70 475.02h2.6 M252.70 480.76h2.6 M252.70 486.50h2.6 M252.70 492.22h2.6 M252.70 497.94h2.6 M252.70 503.66h2.6 M252.70 509.38h2.6 M252.70 515.10h2.6" stroke="#b2b2b2" stroke-width="1.5" fill="none"/>
<line x1="10.05" y1="283.85" x2="10.05" y2="515.10" stroke="#e4e4e4" stroke-width="1.8"/>
<line x1="9.05" y1="283.85" x2="497.45" y2="283.85" stroke="#cbcbcb" stroke-width="2"/>
<line x1="9.05" y1="515.10" x2="497.45" y2="515.10" stroke="#cbcbcb" stroke-width="2"/>
<line x1="497.45" y1="283.85" x2="497.45" y2="515.10" stroke="#d6d6d6" stroke-width="1.6"/>
<line x1="61.4" y1="286.9" x2="61.4" y2="486.4" stroke="#e2a95a" stroke-width="0.9"/>
<path d="M59.6 483.8V480.8 M62.0 483.7V480.1 M63.6 483.7V477.8 M65.8 483.6V480.6 M66.8 483.6V473.8 M72.0 483.5V478.0 M72.6 483.5V474.7 M73.6 483.4V480.6 M75.0 483.4V477.5 M79.8 483.2V476.1 M81.0 483.1V478.4 M82.0 483.1V479.4 M82.7 483.0V474.1 M86.5 482.9V480.1 M90.1 482.7V477.7 M90.8 482.6V477.9 M91.9 482.6V479.2 M92.6 482.5V478.8 M93.8 482.4V476.1 M95.9 482.3V479.8 M97.1 482.2V479.3 M98.8 482.1V478.1 M100.1 482.0V475.2 M100.7 481.7V477.8 M103.6 480.2V475.5 M105.1 478.7V474.8 M105.5 478.2V471.4 M106.9 476.6V466.0 M108.7 473.9V469.9 M109.6 472.6V470.3 M112.9 464.3V461.6 M115.7 457.2V451.3 M116.6 458.4V452.9 M118.5 458.4V456.4 M119.8 459.0V453.3 M121.0 462.6V457.2 M122.7 467.4V465.2 M124.1 471.2V469.1 M125.0 473.7V469.2 M125.9 476.2V472.3 M126.7 477.8V471.6 M127.7 480.0V474.7 M129.9 482.1V479.9 M130.9 482.9V479.2 M132.0 483.2V479.9 M132.6 483.3V479.2 M134.8 483.8V478.6 M135.9 483.8V479.1 M137.0 483.9V478.7 M137.9 484.0V481.6 M139.6 484.0V481.1 M142.7 484.2V482.1 M144.6 484.3V480.6 M145.7 484.4V480.8 M147.0 484.4V480.7 M147.8 484.5V481.4 M148.8 484.5V481.2 M149.9 484.6V481.7 M150.8 484.6V481.8 M151.9 484.6V481.9 M153.0 484.7V481.4 M153.5 484.7V481.2 M154.6 484.7V481.4 M155.7 484.7V481.9 M158.7 484.8V481.7 M160.5 484.8V482.0 M164.0 484.9V482.3 M165.0 484.9V482.2 M165.9 484.9V482.0 M167.6 485.0V482.3 M169.9 485.0V482.3 M172.6 485.1V482.3 M174.0 485.1V482.7 M176.0 485.1V482.1 M176.7 485.1V482.8 M178.0 485.2V482.2 M180.8 485.2V482.9 M181.7 485.2V482.5 M182.6 485.3V483.2 M183.7 485.3V482.2 M189.0 485.4V482.9 M189.7 485.4V482.4 M192.7 485.5V483.1 M193.8 485.5V483.5 M194.7 485.5V482.7 M197.0 485.5V482.7 M197.8 485.6V483.2 M198.7 485.6V483.2 M201.0 485.6V483.0 M202.0 485.6V482.7 M203.8 485.6V483.1 M205.0 485.6V483.1 M205.6 485.6V483.4 M207.8 485.7V483.2 M208.7 485.7V483.5 M209.6 485.7V482.9 M210.5 485.7V483.3 M213.5 485.7V483.5 M214.8 485.7V483.6 M218.8 485.8V483.0 M219.6 485.8V483.7 M222.0 485.8V483.7 M223.1 485.8V483.8 M224.0 485.8V483.4 M226.6 485.8V483.7 M227.5 485.8V483.7 M228.6 485.8V483.7 M229.9 485.8V483.3 M231.9 485.9V483.6 M233.9 485.9V483.8 M237.9 485.9V483.7 M239.7 485.9V483.9 M240.9 485.9V483.8 M242.1 486.0V483.9 M242.7 486.0V483.4 M245.0 486.0V483.5 M245.7 486.0V483.5 M247.1 486.0V483.9" stroke="#edb070" stroke-width="0.85" fill="none" opacity="0.7"/>
<path d="M64.4 483.7V475.4 M67.3 483.6V429.6 M70.4 483.5V452.5 M73.4 483.4V459.8 M79.0 483.2V468.0 M82.0 483.1V473.7 M87.7 482.8V471.5 M90.7 482.7V476.0 M118.1 458.6V444.8 M160.0 484.8V478.0 M165.6 484.9V473.0 M169.0 485.0V476.0 M174.5 485.1V474.5 M177.6 485.2V478.0 M183.6 485.3V477.0 M186.6 485.3V479.0 M192.4 485.4V478.0" stroke="#e2aa70" stroke-width="1.0" fill="none"/>
<defs><linearGradient id="g2" gradientUnits="userSpaceOnUse" x1="59" y1="0" x2="497.45" y2="0"><stop offset="0.000" stop-color="#f88310"/><stop offset="0.436" stop-color="#f58f28"/><stop offset="0.550" stop-color="#e9a050"/><stop offset="0.999" stop-color="#e2a458"/></linearGradient></defs>
<polygon points="59.0,482.71 59.5,482.66 60.0,481.62 60.5,482.75 61.0,482.16 61.5,481.83 62.0,482.68 62.5,482.71 63.0,482.59 63.5,481.95 64.0,482.15 64.5,482.63 65.0,482.35 65.5,481.86 66.0,482.34 66.5,481.92 67.0,480.84 67.5,481.77 68.0,482.33 68.5,482.51 69.0,482.37 69.5,482.10 70.0,481.03 70.5,481.41 71.0,482.34 71.5,480.86 72.0,482.10 72.5,481.59 73.0,482.44 73.5,482.42 74.0,482.37 74.5,480.91 75.0,481.55 75.5,480.99 76.0,481.60 76.5,482.05 77.0,481.84 77.5,481.65 78.0,480.81 78.5,481.91 79.0,480.64 79.5,481.50 80.0,480.82 80.5,481.70 81.0,481.21 81.5,481.91 82.0,481.58 82.5,481.98 83.0,482.01 83.5,482.00 84.0,481.03 84.5,481.59 85.0,480.29 85.5,480.50 86.0,481.63 86.5,479.88 87.0,481.17 87.5,480.64 88.0,481.50 88.5,481.71 89.0,481.70 89.5,481.67 90.0,480.99 90.5,481.65 91.0,481.63 91.5,480.15 92.0,481.55 92.5,481.15 93.0,481.04 93.5,480.69 94.0,480.94 94.5,479.48 95.0,480.18 95.5,480.64 96.0,480.46 96.5,480.70 97.0,478.88 97.5,481.08 98.0,479.96 98.5,480.35 99.0,481.07 99.5,480.83 100.0,478.46 100.5,478.84 101.0,480.50 101.5,479.99 102.0,480.00 102.5,476.95 103.0,479.46 103.5,479.24 104.0,474.20 104.5,477.53 105.0,477.39 105.5,477.24 106.0,475.91 106.5,475.41 107.0,473.98 107.5,474.75 108.0,473.90 108.5,473.03 109.0,471.35 109.5,471.23 110.0,468.50 110.5,469.27 111.0,462.28 111.5,460.06 112.0,465.98 112.5,464.25 113.0,460.83 113.5,457.27 114.0,459.98 114.5,458.49 115.0,456.09 115.5,453.11 116.0,451.07 116.5,452.22 117.0,453.79 117.5,457.79 118.0,450.95 118.5,455.00 119.0,457.17 119.5,456.65 120.0,456.05 120.5,459.15 121.0,460.34 121.5,458.82 122.0,460.05 122.5,464.06 123.0,463.30 123.5,467.72 124.0,464.02 124.5,469.30 125.0,467.01 125.5,474.12 126.0,470.94 126.5,474.88 127.0,474.83 127.5,478.36 128.0,478.11 128.5,479.59 129.0,480.30 129.5,480.75 130.0,477.58 130.5,479.82 131.0,481.88 131.5,481.90 132.0,481.52 132.5,480.07 133.0,482.37 133.5,479.63 134.0,480.06 134.5,482.58 135.0,481.86 135.5,482.56 136.0,481.74 136.5,482.87 137.0,482.45 137.5,482.19 138.0,482.12 138.5,481.95 139.0,481.22 139.5,482.94 140.0,483.03 140.5,482.81 141.0,482.48 141.5,481.14 142.0,482.15 142.5,482.10 143.0,481.24 143.5,483.14 144.0,483.17 144.5,483.00 145.0,483.20 145.5,482.58 146.0,481.62 146.5,483.38 147.0,482.99 147.5,482.66 148.0,483.10 148.5,482.00 149.0,482.61 149.5,482.20 150.0,483.59 150.5,483.56 151.0,483.62 151.5,482.50 152.0,482.09 152.5,483.65 153.0,482.69 153.5,482.87 154.0,482.40 154.5,483.60 155.0,482.96 155.5,483.65 156.0,483.71 156.5,482.96 157.0,483.74 157.5,483.10 158.0,483.67 158.5,483.49 159.0,482.73 159.5,483.73 160.0,483.56 160.5,483.68 161.0,483.79 161.5,483.58 162.0,483.81 162.5,483.07 163.0,483.42 163.5,483.79 164.0,482.69 164.5,483.77 165.0,483.38 165.5,483.28 166.0,483.85 166.5,483.93 167.0,482.98 167.5,482.84 168.0,483.94 168.5,483.95 169.0,483.79 169.5,483.60 170.0,482.83 170.5,482.91 171.0,482.86 171.5,483.98 172.0,483.66 172.5,483.86 173.0,484.01 173.5,484.07 174.0,484.06 174.5,483.97 175.0,484.09 175.5,484.09 176.0,484.12 176.5,483.73 177.0,483.90 177.5,484.10 178.0,483.89 178.5,484.00 179.0,483.74 179.5,483.24 180.0,484.09 180.5,483.79 181.0,484.18 181.5,483.28 182.0,483.87 182.5,484.23 183.0,484.21 183.5,484.25 184.0,484.26 184.5,484.21 185.0,483.62 185.5,484.12 186.0,484.26 186.5,484.18 187.0,484.28 187.5,483.83 188.0,484.36 188.5,484.30 189.0,484.30 189.5,484.37 190.0,483.89 190.5,484.39 191.0,484.35 191.5,484.43 192.0,483.91 192.5,484.34 193.0,484.08 193.5,484.44 194.0,484.48 194.5,484.41 195.0,483.95 195.5,483.87 196.0,484.43 196.5,483.88 197.0,484.54 197.5,484.33 198.0,484.51 198.5,484.42 199.0,484.55 199.5,483.88 200.0,484.54 200.5,483.81 201.0,484.60 201.5,484.47 202.0,484.47 202.5,484.20 203.0,484.54 203.5,484.44 204.0,484.63 204.5,484.57 205.0,484.21 205.5,484.64 206.0,484.49 206.5,484.62 207.0,484.64 207.5,484.65 208.0,484.11 208.5,484.29 209.0,484.57 209.5,484.57 210.0,484.25 210.5,484.40 211.0,483.98 211.5,483.98 212.0,484.53 212.5,484.36 213.0,484.48 213.5,484.65 214.0,484.57 214.5,484.31 215.0,484.49 215.5,484.42 216.0,484.56 216.5,483.98 217.0,484.26 217.5,484.74 218.0,484.22 218.5,484.06 219.0,484.22 219.5,484.68 220.0,484.67 220.5,484.73 221.0,484.77 221.5,484.62 222.0,484.20 222.5,484.32 223.0,484.46 223.5,484.23 224.0,484.47 224.5,484.77 225.0,484.30 225.5,484.72 226.0,484.19 226.5,484.75 227.0,484.82 227.5,484.42 228.0,484.83 228.5,484.24 229.0,484.73 229.5,484.38 230.0,484.85 230.5,484.65 231.0,484.52 231.5,484.85 232.0,484.60 232.5,484.86 233.0,484.82 233.5,484.79 234.0,484.61 234.5,484.88 235.0,484.87 235.5,484.44 236.0,484.53 236.5,484.77 237.0,484.86 237.5,484.57 238.0,484.77 238.5,484.86 239.0,484.35 239.5,484.91 240.0,484.46 240.5,484.67 241.0,484.65 241.5,484.62 242.0,484.55 242.5,484.38 243.0,484.33 243.5,484.92 244.0,484.95 244.5,484.38 245.0,484.95 245.5,484.95 246.0,484.52 246.5,484.30 247.0,484.48 247.5,484.82 248.0,484.91 248.5,484.28 249.0,484.63 249.5,484.75 250.0,485.02 250.5,485.00 251.0,485.02 251.5,484.44 252.0,485.00 252.5,485.02 253.0,484.82 253.5,485.02 254.0,484.86 254.5,484.41 255.0,484.54 255.5,485.03 256.0,484.48 256.5,484.98 257.0,484.90 257.5,485.02 258.0,484.38 258.5,485.04 259.0,484.73 259.5,484.85 260.0,484.79 260.5,485.10 261.0,484.92 261.5,484.41 262.0,484.90 262.5,485.08 263.0,485.10 263.5,485.04 264.0,484.74 264.5,485.10 265.0,485.10 265.5,484.83 266.0,484.58 266.5,484.99 267.0,484.86 267.5,485.07 268.0,485.06 268.5,484.97 269.0,485.08 269.5,484.98 270.0,485.09 270.5,484.52 271.0,484.84 271.5,485.10 272.0,485.09 272.5,484.65 273.0,485.03 273.5,485.07 274.0,485.11 274.5,484.82 275.0,484.91 275.5,484.64 276.0,485.09 276.5,484.74 277.0,484.66 277.5,484.66 278.0,484.75 278.5,484.99 279.0,485.11 279.5,484.85 280.0,485.11 280.5,485.11 281.0,485.01 281.5,485.10 282.0,484.99 282.5,484.63 283.0,485.10 283.5,484.70 284.0,484.43 284.5,485.11 285.0,485.01 285.5,484.79 286.0,484.77 286.5,485.07 287.0,484.69 287.5,485.04 288.0,485.09 288.5,484.95 289.0,484.88 289.5,484.66 290.0,484.84 290.5,485.11 291.0,484.91 291.5,485.05 292.0,484.80 292.5,485.11 293.0,484.85 293.5,484.71 294.0,485.11 294.5,485.11 295.0,484.59 295.5,484.59 296.0,485.10 296.5,484.56 297.0,485.02 297.5,484.96 298.0,484.99 298.5,485.06 299.0,484.61 299.5,484.89 300.0,484.55 300.5,484.88 301.0,484.56 301.5,484.96 302.0,484.99 302.5,484.92 303.0,485.12 303.5,484.75 304.0,485.11 304.5,484.54 305.0,485.12 305.5,484.81 306.0,484.75 306.5,484.95 307.0,485.12 307.5,484.70 308.0,485.07 308.5,485.08 309.0,484.83 309.5,484.50 310.0,485.12 310.5,485.02 311.0,484.85 311.5,485.08 312.0,484.57 312.5,484.91 313.0,485.12 313.5,485.11 314.0,485.11 314.5,485.01 315.0,484.59 315.5,485.12 316.0,485.11 316.5,485.10 317.0,484.93 317.5,485.02 318.0,485.03 318.5,485.12 319.0,484.70 319.5,485.00 320.0,484.65 320.5,485.13 321.0,485.01 321.5,485.05 322.0,484.68 322.5,484.84 323.0,484.97 323.5,485.12 324.0,484.85 324.5,484.62 325.0,484.76 325.5,484.53 326.0,484.93 326.5,485.08 327.0,485.11 327.5,484.74 328.0,484.72 328.5,484.89 329.0,484.76 329.5,485.00 330.0,484.68 330.5,484.84 331.0,485.10 331.5,484.93 332.0,484.88 332.5,485.11 333.0,484.58 333.5,484.73 334.0,485.12 334.5,485.11 335.0,485.13 335.5,484.58 336.0,485.12 336.5,484.71 337.0,484.99 337.5,485.13 338.0,485.11 338.5,485.10 339.0,484.78 339.5,485.06 340.0,485.13 340.5,484.57 341.0,484.99 341.5,485.13 342.0,484.54 342.5,484.87 343.0,485.03 343.5,485.13 344.0,484.85 344.5,485.13 345.0,484.59 345.5,484.80 346.0,484.84 346.5,484.78 347.0,484.68 347.5,485.02 348.0,484.74 348.5,485.13 349.0,484.85 349.5,484.81 350.0,485.12 350.5,485.13 351.0,484.62 351.5,484.65 352.0,485.13 352.5,484.94 353.0,485.12 353.5,485.12 354.0,484.61 354.5,484.89 355.0,484.80 355.5,485.10 356.0,484.79 356.5,484.88 357.0,485.08 357.5,485.01 358.0,485.11 358.5,484.95 359.0,485.13 359.5,485.04 360.0,484.71 360.5,484.90 361.0,484.94 361.5,485.14 362.0,484.74 362.5,484.93 363.0,484.60 363.5,484.62 364.0,484.62 364.5,484.99 365.0,484.80 365.5,485.14 366.0,485.14 366.5,484.79 367.0,484.89 367.5,484.60 368.0,485.10 368.5,485.02 369.0,484.79 369.5,484.94 370.0,484.72 370.5,485.07 371.0,484.73 371.5,484.71 372.0,484.66 372.5,485.07 373.0,484.66 373.5,485.10 374.0,484.96 374.5,484.57 375.0,484.92 375.5,484.96 376.0,485.08 376.5,485.01 377.0,485.02 377.5,484.89 378.0,485.00 378.5,485.10 379.0,485.13 379.5,484.57 380.0,484.94 380.5,485.14 381.0,485.10 381.5,484.92 382.0,485.13 382.5,484.68 383.0,485.00 383.5,484.90 384.0,484.91 384.5,485.14 385.0,484.64 385.5,484.74 386.0,485.14 386.5,484.98 387.0,485.01 387.5,485.11 388.0,485.09 388.5,485.12 389.0,484.94 389.5,485.06 390.0,485.15 390.5,485.13 391.0,485.15 391.5,484.94 392.0,485.00 392.5,485.08 393.0,485.00 393.5,484.94 394.0,485.14 394.5,485.16 395.0,484.62 395.5,485.14 396.0,485.13 396.5,484.89 397.0,484.59 397.5,485.15 398.0,485.08 398.5,484.74 399.0,485.16 399.5,485.13 400.0,484.96 400.5,484.77 401.0,485.16 401.5,485.08 402.0,484.98 402.5,485.01 403.0,485.01 403.5,484.59 404.0,484.60 404.5,485.14 405.0,485.13 405.5,485.08 406.0,485.16 406.5,485.15 407.0,485.00 407.5,484.60 408.0,485.12 408.5,485.15 409.0,484.96 409.5,485.12 410.0,485.16 410.5,485.16 411.0,484.73 411.5,485.16 412.0,484.95 412.5,485.08 413.0,484.84 413.5,485.04 414.0,485.14 414.5,485.15 415.0,485.14 415.5,485.14 416.0,485.14 416.5,485.13 417.0,484.98 417.5,485.03 418.0,485.17 418.5,485.08 419.0,484.68 419.5,484.67 420.0,485.12 420.5,485.16 421.0,485.13 421.5,485.16 422.0,485.14 422.5,484.69 423.0,484.75 423.5,485.07 424.0,485.02 424.5,484.91 425.0,484.91 425.5,484.92 426.0,484.88 426.5,484.99 427.0,485.16 427.5,484.93 428.0,484.94 428.5,485.16 429.0,485.16 429.5,484.97 430.0,485.10 430.5,484.82 431.0,485.14 431.5,484.95 432.0,484.98 432.5,485.17 433.0,485.14 433.5,485.12 434.0,485.13 434.5,485.17 435.0,485.15 435.5,485.03 436.0,485.15 436.5,484.97 437.0,485.10 437.5,485.08 438.0,485.16 438.5,484.85 439.0,485.17 439.5,484.69 440.0,485.00 440.5,484.69 441.0,485.03 441.5,485.12 442.0,485.12 442.5,484.71 443.0,485.05 443.5,485.11 444.0,485.17 444.5,485.17 445.0,485.10 445.5,485.08 446.0,484.84 446.5,485.17 447.0,485.08 447.5,485.17 448.0,485.15 448.5,485.07 449.0,484.77 449.5,485.17 450.0,485.17 450.5,484.93 451.0,485.05 451.5,485.18 452.0,484.95 452.5,484.69 453.0,484.91 453.5,484.65 454.0,484.90 454.5,485.14 455.0,484.85 455.5,485.03 456.0,485.18 456.5,485.13 457.0,484.71 457.5,484.97 458.0,485.12 458.5,484.93 459.0,484.95 459.5,485.17 460.0,485.09 460.5,484.85 461.0,485.18 461.5,485.04 462.0,485.18 462.5,485.15 463.0,484.89 463.5,485.13 464.0,484.84 464.5,484.93 465.0,484.99 465.5,485.18 466.0,485.10 466.5,484.79 467.0,485.00 467.5,485.19 468.0,485.07 468.5,485.09 469.0,485.08 469.5,485.11 470.0,484.86 470.5,485.06 471.0,484.82 471.5,484.72 472.0,484.78 472.5,484.90 473.0,485.19 473.5,485.19 474.0,485.18 474.5,485.07 475.0,485.15 475.5,485.18 476.0,484.75 476.5,485.11 477.0,485.18 477.5,485.07 478.0,484.70 478.5,484.94 479.0,484.76 479.5,485.19 480.0,484.93 480.5,485.15 481.0,485.14 481.5,485.10 482.0,485.10 482.5,484.89 483.0,485.16 483.5,485.10 484.0,485.11 484.5,485.01 485.0,485.05 485.5,485.19 486.0,484.84 486.5,485.00 487.0,485.19 487.5,485.09 488.0,484.79 488.5,484.81 489.0,485.13 489.5,485.18 490.0,484.74 490.5,484.94 491.0,484.99 491.5,485.13 492.0,484.83 492.5,485.18 493.0,484.87 493.5,484.89 494.0,485.08 494.5,485.14 495.0,484.98 495.5,485.14 496.0,485.13 496.5,485.17 497.0,484.91 497.0,486.80 496.5,486.82 496.0,486.60 495.5,486.65 495.0,486.83 494.5,486.82 494.0,486.61 493.5,486.67 493.0,486.75 492.5,486.72 492.0,486.61 491.5,486.79 491.0,486.89 490.5,486.87 490.0,486.88 489.5,486.75 489.0,486.84 488.5,486.62 488.0,486.72 487.5,486.72 487.0,486.78 486.5,486.73 486.0,486.71 485.5,486.61 485.0,486.60 484.5,486.79 484.0,486.88 483.5,486.80 483.0,486.76 482.5,486.83 482.0,486.77 481.5,486.79 481.0,486.65 480.5,486.78 480.0,486.74 479.5,486.67 479.0,486.79 478.5,486.80 478.0,486.87 477.5,486.62 477.0,486.78 476.5,486.76 476.0,486.74 475.5,486.63 475.0,486.72 474.5,486.74 474.0,486.77 473.5,486.80 473.0,486.82 472.5,486.84 472.0,486.63 471.5,486.67 471.0,486.63 470.5,486.79 470.0,486.80 469.5,486.61 469.0,486.62 468.5,486.60 468.0,486.78 467.5,486.84 467.0,486.83 466.5,486.84 466.0,486.86 465.5,486.84 465.0,486.79 464.5,486.66 464.0,486.64 463.5,486.61 463.0,486.75 462.5,486.75 462.0,486.82 461.5,486.69 461.0,486.71 460.5,486.63 460.0,486.83 459.5,486.65 459.0,486.82 458.5,486.75 458.0,486.60 457.5,486.60 457.0,486.70 456.5,486.62 456.0,486.60 455.5,486.74 455.0,486.62 454.5,486.75 454.0,486.82 453.5,486.85 453.0,486.66 452.5,486.68 452.0,486.72 451.5,486.83 451.0,486.68 450.5,486.71 450.0,486.59 449.5,486.60 449.0,486.73 448.5,486.61 448.0,486.68 447.5,486.75 447.0,486.68 446.5,486.86 446.0,486.71 445.5,486.63 445.0,486.84 444.5,486.62 444.0,486.85 443.5,486.78 443.0,486.81 442.5,486.71 442.0,486.80 441.5,486.64 441.0,486.59 440.5,486.67 440.0,486.86 439.5,486.68 439.0,486.71 438.5,486.83 438.0,486.74 437.5,486.85 437.0,486.69 436.5,486.70 436.0,486.66 435.5,486.73 435.0,486.61 434.5,486.74 434.0,486.68 433.5,486.84 433.0,486.85 432.5,486.73 432.0,486.75 431.5,486.58 431.0,486.79 430.5,486.57 430.0,486.70 429.5,486.79 429.0,486.63 428.5,486.69 428.0,486.73 427.5,486.72 427.0,486.71 426.5,486.59 426.0,486.67 425.5,486.64 425.0,486.61 424.5,486.75 424.0,486.83 423.5,486.61 423.0,486.77 422.5,486.68 422.0,486.80 421.5,486.74 421.0,486.71 420.5,486.76 420.0,486.77 419.5,486.81 419.0,486.72 418.5,486.77 418.0,486.57 417.5,486.75 417.0,486.64 416.5,486.84 416.0,486.60 415.5,486.57 415.0,486.84 414.5,486.61 414.0,486.71 413.5,486.57 413.0,486.60 412.5,486.71 412.0,486.63 411.5,486.77 411.0,486.62 410.5,486.63 410.0,486.82 409.5,486.56 409.0,486.86 408.5,486.80 408.0,486.72 407.5,486.76 407.0,486.68 406.5,486.82 406.0,486.81 405.5,486.67 405.0,486.82 404.5,486.58 404.0,486.67 403.5,486.70 403.0,486.74 402.5,486.68 402.0,486.74 401.5,486.74 401.0,486.75 400.5,486.62 400.0,486.61 399.5,486.66 399.0,486.57 398.5,486.66 398.0,486.80 397.5,486.75 397.0,486.56 396.5,486.66 396.0,486.61 395.5,486.77 395.0,486.60 394.5,486.70 394.0,486.76 393.5,486.70 393.0,486.68 392.5,486.85 392.0,486.59 391.5,486.55 391.0,486.55 390.5,486.67 390.0,486.78 389.5,486.78 389.0,486.68 388.5,486.64 388.0,486.62 387.5,486.80 387.0,486.63 386.5,486.64 386.0,486.76 385.5,486.59 385.0,486.70 384.5,486.83 384.0,486.72 383.5,486.67 383.0,486.72 382.5,486.61 382.0,486.78 381.5,486.58 381.0,486.63 380.5,486.59 380.0,486.63 379.5,486.78 379.0,486.57 378.5,486.59 378.0,486.71 377.5,486.75 377.0,486.71 376.5,486.71 376.0,486.64 375.5,486.55 375.0,486.79 374.5,486.59 374.0,486.58 373.5,486.57 373.0,486.56 372.5,486.77 372.0,486.59 371.5,486.78 371.0,486.55 370.5,486.64 370.0,486.77 369.5,486.73 369.0,486.77 368.5,486.61 368.0,486.64 367.5,486.74 367.0,486.75 366.5,486.77 366.0,486.71 365.5,486.72 365.0,486.73 364.5,486.76 364.0,486.72 363.5,486.76 363.0,486.63 362.5,486.58 362.0,486.62 361.5,486.72 361.0,486.54 360.5,486.69 360.0,486.81 359.5,486.79 359.0,486.80 358.5,486.60 358.0,486.56 357.5,486.56 357.0,486.78 356.5,486.66 356.0,486.64 355.5,486.60 355.0,486.58 354.5,486.82 354.0,486.54 353.5,486.62 353.0,486.60 352.5,486.76 352.0,486.58 351.5,486.81 351.0,486.71 350.5,486.83 350.0,486.76 349.5,486.62 349.0,486.64 348.5,486.73 348.0,486.73 347.5,486.75 347.0,486.55 346.5,486.70 346.0,486.60 345.5,486.57 345.0,486.79 344.5,486.54 344.0,486.56 343.5,486.61 343.0,486.71 342.5,486.80 342.0,486.55 341.5,486.68 341.0,486.82 340.5,486.57 340.0,486.67 339.5,486.61 339.0,486.76 338.5,486.55 338.0,486.53 337.5,486.79 337.0,486.70 336.5,486.69 336.0,486.66 335.5,486.56 335.0,486.82 334.5,486.78 334.0,486.61 333.5,486.80 333.0,486.79 332.5,486.73 332.0,486.74 331.5,486.78 331.0,486.72 330.5,486.76 330.0,486.59 329.5,486.54 329.0,486.73 328.5,486.76 328.0,486.74 327.5,486.64 327.0,486.80 326.5,486.62 326.0,486.75 325.5,486.79 325.0,486.78 324.5,486.67 324.0,486.60 323.5,486.74 323.0,486.79 322.5,486.67 322.0,486.64 321.5,486.61 321.0,486.80 320.5,486.64 320.0,486.78 319.5,486.58 319.0,486.76 318.5,486.68 318.0,486.80 317.5,486.64 317.0,486.81 316.5,486.76 316.0,486.82 315.5,486.76 315.0,486.81 314.5,486.62 314.0,486.60 313.5,486.62 313.0,486.52 312.5,486.70 312.0,486.78 311.5,486.66 311.0,486.55 310.5,486.79 310.0,486.80 309.5,486.67 309.0,486.55 308.5,486.76 308.0,486.72 307.5,486.55 307.0,486.57 306.5,486.70 306.0,486.81 305.5,486.66 305.0,486.71 304.5,486.54 304.0,486.56 303.5,486.52 303.0,486.66 302.5,486.64 302.0,486.64 301.5,486.58 301.0,486.76 300.5,486.65 300.0,486.77 299.5,486.74 299.0,486.53 298.5,486.57 298.0,486.53 297.5,486.66 297.0,486.78 296.5,486.72 296.0,486.79 295.5,486.54 295.0,486.71 294.5,486.51 294.0,486.76 293.5,486.80 293.0,486.69 292.5,486.62 292.0,486.77 291.5,486.69 291.0,486.55 290.5,486.54 290.0,486.79 289.5,486.59 289.0,486.51 288.5,486.71 288.0,486.74 287.5,486.68 287.0,486.79 286.5,486.79 286.0,486.72 285.5,486.51 285.0,486.79 284.5,486.67 284.0,486.58 283.5,486.51 283.0,486.61 282.5,486.75 282.0,486.80 281.5,486.55 281.0,486.53 280.5,486.66 280.0,486.65 279.5,486.53 279.0,486.63 278.5,486.74 278.0,486.78 277.5,486.70 277.0,486.76 276.5,486.62 276.0,486.71 275.5,486.58 275.0,486.53 274.5,486.53 274.0,486.64 273.5,486.59 273.0,486.72 272.5,486.73 272.0,486.66 271.5,486.75 271.0,486.59 270.5,486.79 270.0,486.71 269.5,486.51 269.0,486.67 268.5,486.74 268.0,486.78 267.5,486.71 267.0,486.55 266.5,486.72 266.0,486.51 265.5,486.57 265.0,486.63 264.5,486.70 264.0,486.68 263.5,486.56 263.0,486.53 262.5,486.65 262.0,486.70 261.5,486.62 261.0,486.70 260.5,486.79 260.0,486.68 259.5,486.63 259.0,486.53 258.5,486.75 258.0,486.70 257.5,486.57 257.0,486.77 256.5,486.52 256.0,486.67 255.5,486.69 255.0,486.67 254.5,486.57 254.0,486.53 253.5,486.73 253.0,486.65 252.5,486.77 252.0,486.74 251.5,486.49 251.0,486.56 250.5,486.51 250.0,486.61 249.5,486.66 249.0,486.77 248.5,486.53 248.0,486.49 247.5,486.69 247.0,486.75 246.5,486.58 246.0,486.54 245.5,486.56 245.0,486.78 244.5,486.62 244.0,486.66 243.5,486.50 243.0,486.50 242.5,486.69 242.0,486.52 241.5,486.61 241.0,486.72 240.5,486.70 240.0,486.49 239.5,486.62 239.0,486.65 238.5,486.56 238.0,486.53 237.5,486.74 237.0,486.74 236.5,486.64 236.0,486.59 235.5,486.66 235.0,486.55 234.5,486.60 234.0,486.53 233.5,486.55 233.0,486.52 232.5,486.78 232.0,486.72 231.5,486.56 231.0,486.64 230.5,486.51 230.0,486.52 229.5,486.70 229.0,486.59 228.5,486.68 228.0,486.51 227.5,486.76 227.0,486.54 226.5,486.52 226.0,486.65 225.5,486.69 225.0,486.69 224.5,486.76 224.0,486.57 223.5,486.48 223.0,486.62 222.5,486.56 222.0,486.74 221.5,486.50 221.0,486.60 220.5,486.72 220.0,486.70 219.5,486.61 219.0,486.49 218.5,486.71 218.0,486.51 217.5,486.58 217.0,486.50 216.5,486.68 216.0,486.72 215.5,486.72 215.0,486.54 214.5,486.72 214.0,486.47 213.5,486.68 213.0,486.75 212.5,486.70 212.0,486.50 211.5,486.61 211.0,486.74 210.5,486.56 210.0,486.56 209.5,486.50 209.0,486.63 208.5,486.50 208.0,486.58 207.5,486.51 207.0,486.47 206.5,486.59 206.0,486.75 205.5,486.74 205.0,486.75 204.5,486.71 204.0,486.65 203.5,486.62 203.0,486.70 202.5,486.75 202.0,486.59 201.5,486.75 201.0,486.76 200.5,486.59 200.0,486.73 199.5,486.61 199.0,486.68 198.5,486.71 198.0,486.52 197.5,486.69 197.0,486.61 196.5,486.55 196.0,486.51 195.5,486.60 195.0,486.51 194.5,486.75 194.0,486.66 193.5,486.64 193.0,486.69 192.5,486.51 192.0,486.63 191.5,486.55 191.0,486.60 190.5,486.54 190.0,486.46 189.5,486.73 189.0,486.50 188.5,486.53 188.0,486.61 187.5,486.68 187.0,486.54 186.5,486.76 186.0,486.64 185.5,486.69 185.0,486.51 184.5,486.69 184.0,486.74 183.5,486.59 183.0,486.59 182.5,486.57 182.0,486.59 181.5,486.63 181.0,486.73 180.5,486.53 180.0,486.74 179.5,486.75 179.0,486.65 178.5,486.49 178.0,486.67 177.5,486.55 177.0,486.69 176.5,486.64 176.0,486.67 175.5,486.67 175.0,486.73 174.5,486.55 174.0,486.73 173.5,486.53 173.0,486.71 172.5,486.62 172.0,486.65 171.5,486.68 171.0,486.53 170.5,486.49 170.0,486.65 169.5,486.56 169.0,486.51 168.5,486.73 168.0,486.61 167.5,486.62 167.0,486.54 166.5,486.72 166.0,486.69 165.5,486.51 165.0,486.73 164.5,486.54 164.0,486.50 163.5,486.58 163.0,486.72 162.5,486.45 162.0,486.72 161.5,486.45 161.0,486.70 160.5,486.54 160.0,486.57 159.5,486.48 159.0,486.66 158.5,486.60 158.0,486.53 157.5,486.74 157.0,486.74 156.5,486.73 156.0,486.45 155.5,486.60 155.0,486.70 154.5,486.52 154.0,486.56 153.5,486.49 153.0,486.56 152.5,486.61 152.0,486.72 151.5,486.46 151.0,486.66 150.5,486.46 150.0,486.49 149.5,486.46 149.0,486.59 148.5,486.46 148.0,486.51 147.5,486.66 147.0,486.58 146.5,486.44 146.0,486.74 145.5,486.67 145.0,486.59 144.5,486.72 144.0,486.69 143.5,486.73 143.0,486.63 142.5,486.68 142.0,486.56 141.5,486.54 141.0,486.66 140.5,486.55 140.0,486.45 139.5,486.48 139.0,486.54 138.5,486.62 138.0,486.54 137.5,486.49 137.0,486.57 136.5,486.66 136.0,486.49 135.5,486.61 135.0,486.71 134.5,486.44 134.0,486.59 133.5,486.70 133.0,486.66 132.5,486.56 132.0,486.61 131.5,486.54 131.0,486.67 130.5,486.64 130.0,486.50 129.5,486.66 129.0,486.58 128.5,486.59 128.0,486.46 127.5,486.67 127.0,486.45 126.5,486.65 126.0,486.65 125.5,486.60 125.0,486.65 124.5,486.69 124.0,486.58 123.5,486.69 123.0,486.58 122.5,486.67 122.0,486.49 121.5,486.54 121.0,486.56 120.5,486.67 120.0,486.71 119.5,486.62 119.0,486.69 118.5,486.64 118.0,486.49 117.5,486.47 117.0,486.60 116.5,486.47 116.0,486.49 115.5,486.52 115.0,486.61 114.5,486.72 114.0,486.70 113.5,486.43 113.0,486.56 112.5,486.44 112.0,486.43 111.5,486.65 111.0,486.67 110.5,486.51 110.0,486.72 109.5,486.48 109.0,486.56 108.5,486.53 108.0,486.69 107.5,486.72 107.0,486.45 106.5,486.48 106.0,486.60 105.5,486.44 105.0,486.49 104.5,486.53 104.0,486.55 103.5,486.60 103.0,486.59 102.5,486.46 102.0,486.59 101.5,486.59 101.0,486.51 100.5,486.70 100.0,486.61 99.5,486.68 99.0,486.43 98.5,486.49 98.0,486.47 97.5,486.56 97.0,486.61 96.5,486.58 96.0,486.56 95.5,486.64 95.0,486.50 94.5,486.66 94.0,486.59 93.5,486.50 93.0,486.55 92.5,486.69 92.0,486.59 91.5,486.54 91.0,486.70 90.5,486.53 90.0,486.52 89.5,486.47 89.0,486.53 88.5,486.46 88.0,486.48 87.5,486.55 87.0,486.51 86.5,486.53 86.0,486.49 85.5,486.48 85.0,486.67 84.5,486.55 84.0,486.68 83.5,486.55 83.0,486.54 82.5,486.70 82.0,486.70 81.5,486.59 81.0,486.64 80.5,486.67 80.0,486.52 79.5,486.71 79.0,486.47 78.5,486.65 78.0,486.67 77.5,486.70 77.0,486.63 76.5,486.41 76.0,486.68 75.5,486.66 75.0,486.45 74.5,486.56 74.0,486.53 73.5,486.65 73.0,486.57 72.5,486.58 72.0,486.49 71.5,486.58 71.0,486.68 70.5,486.48 70.0,486.51 69.5,486.61 69.0,486.44 68.5,486.47 68.0,486.68 67.5,486.70 67.0,486.55 66.5,486.65 66.0,486.55 65.5,486.49 65.0,486.53 64.5,486.46 64.0,486.60 63.5,486.68 63.0,486.44 62.5,486.69 62.0,486.47 61.5,486.57 61.0,486.43 60.5,486.70 60.0,486.53 59.5,486.55 59.0,486.45" fill="url(#g2)"/>
<path d="M103.2 481.3V482.5 M104.9 479.4V482.2 M106.1 480.8V482.5 M106.7 477.6V481.3 M107.5 479.8V484.9 M108.9 474.1V480.8 M109.6 476.8V481.8 M114.3 462.3V484.1 M117.7 464.7V483.8 M119.6 458.7V482.1 M121.9 475.2V479.4 M122.9 472.6V477.9 M124.1 471.6V484.7 M124.8 473.0V479.3 M126.6 478.9V482.1 M128.6 480.3V484.1" stroke="#fff3e0" stroke-width="0.6" fill="none" opacity="0.35"/>
<rect x="110" y="482.5" width="1.5" height="3" fill="#fff6ea" opacity="0.6"/>
<rect x="114" y="483" width="1.5" height="2.5" fill="#fff6ea" opacity="0.6"/>
<rect x="6" y="485.3" width="3.6" height="2.4" fill="#c9a040"/>
<text x="5.2" y="484.3" font-family="'Liberation Sans', Arial, sans-serif" font-size="7" fill="#f4e4bc">1</text>
<rect x="57.8" y="516.4" width="2.4" height="2" fill="#f0a040"/>
<rect x="376" y="287" width="119" height="25" fill="#f0f1e8"/>
<text x="381.2" y="305.8" font-family="'Liberation Sans', Arial, sans-serif" font-size="18.3" fill="#111" stroke="#111" stroke-width="0.3" textLength="106" lengthAdjust="spacingAndGlyphs">THD: 23.6 %</text>
<text x="153.3" y="359.6" font-family="'Liberation Sans', Arial, sans-serif" font-size="20.2" fill="#111" stroke="#111" stroke-width="0.3" textLength="105" lengthAdjust="spacingAndGlyphs">200 mA/div</text>
<path d="M142.9 341.90000000000003V368.2 M139.20000000000002 345.5L142.9 341.90000000000003L146.6 345.5 M139.20000000000002 364.6L142.9 368.2L146.6 364.6" stroke="#3a3a3a" stroke-width="1.9" fill="none" stroke-linecap="round" stroke-linejoin="round"/>
<text x="338" y="427.3" font-family="'Liberation Sans', Arial, sans-serif" font-size="18.2" fill="#111" stroke="#111" stroke-width="0.3" textLength="94.5" lengthAdjust="spacingAndGlyphs">500 Hz/div</text>
<path d="M352.0 437.3H399.7 M356.2 433.3L352.0 437.3L356.2 441.3 M395.5 433.3L399.7 437.3L395.5 441.3" stroke="#3a3a3a" stroke-width="1.7" fill="none" stroke-linecap="round" stroke-linejoin="round"/>
<text x="239.8" y="538.9" font-family="'Liberation Serif', 'Times New Roman', serif" font-size="22.9" fill="#111" textLength="24.9" lengthAdjust="spacingAndGlyphs">(b)</text>
</svg>
</body></html>
